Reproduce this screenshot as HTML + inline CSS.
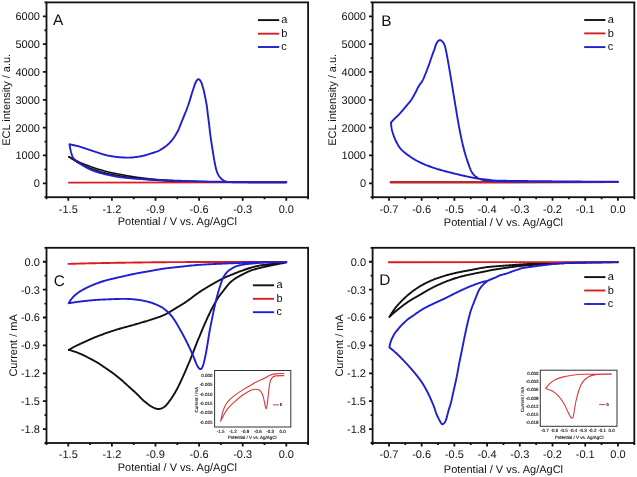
<!DOCTYPE html>
<html><head><meta charset="utf-8"><style>
html,body{margin:0;padding:0;background:#fff;}
body{width:637px;height:477px;overflow:hidden;}
svg{display:block;will-change:transform;text-rendering:geometricPrecision;}
.t{font-family:"Liberation Sans",sans-serif;font-size:11px;fill:#111;}
.L{font-family:"Liberation Sans",sans-serif;font-size:15.4px;fill:#111;}
.s{font-family:"Liberation Sans",sans-serif;font-size:4.5px;fill:#111;stroke:#111;stroke-width:0.12px;}
</style></head><body>
<svg width="637" height="477" viewBox="0 0 637 477">
<rect width="637" height="477" fill="#fff"/>
<rect x="46.5" y="2.4" width="261.6" height="194.8" fill="none" stroke="#111" stroke-width="1.8"/>
<path d="M68.3,197.2v3.6M111.9,197.2v3.6M155.5,197.2v3.6M199.1,197.2v3.6M242.7,197.2v3.6M286.3,197.2v3.6M46.5,197.2v2M90.1,197.2v2M133.7,197.2v2M177.3,197.2v2M220.9,197.2v2M264.5,197.2v2M308.1,197.2v2" stroke="#111" stroke-width="1.8" fill="none"/>
<text x="68.3" y="212.6" text-anchor="middle" class="t">-1.5</text>
<text x="111.9" y="212.6" text-anchor="middle" class="t">-1.2</text>
<text x="155.5" y="212.6" text-anchor="middle" class="t">-0.9</text>
<text x="199.1" y="212.6" text-anchor="middle" class="t">-0.6</text>
<text x="242.7" y="212.6" text-anchor="middle" class="t">-0.3</text>
<text x="286.3" y="212.6" text-anchor="middle" class="t">0.0</text>
<path d="M46.5,183.29h-3.6M46.5,155.46h-3.6M46.5,127.63h-3.6M46.5,99.8h-3.6M46.5,71.97h-3.6M46.5,44.14h-3.6M46.5,16.31h-3.6M46.5,197.2h-2M46.5,169.37h-2M46.5,141.54h-2M46.5,113.71h-2M46.5,85.89h-2M46.5,58.06h-2M46.5,30.23h-2M46.5,2.4h-2" stroke="#111" stroke-width="1.8" fill="none"/>
<text x="39.9" y="187.19" text-anchor="end" class="t">0</text>
<text x="39.9" y="159.36" text-anchor="end" class="t">1000</text>
<text x="39.9" y="131.53" text-anchor="end" class="t">2000</text>
<text x="39.9" y="103.7" text-anchor="end" class="t">3000</text>
<text x="39.9" y="75.87" text-anchor="end" class="t">4000</text>
<text x="39.9" y="48.04" text-anchor="end" class="t">5000</text>
<text x="39.9" y="20.21" text-anchor="end" class="t">6000</text>
<rect x="372.6" y="2.4" width="261.7" height="194.8" fill="none" stroke="#111" stroke-width="1.8"/>
<path d="M388.96,197.2v3.6M421.67,197.2v3.6M454.38,197.2v3.6M487.09,197.2v3.6M519.81,197.2v3.6M552.52,197.2v3.6M585.23,197.2v3.6M617.94,197.2v3.6M372.6,197.2v2M405.31,197.2v2M438.02,197.2v2M470.74,197.2v2M503.45,197.2v2M536.16,197.2v2M568.88,197.2v2M601.59,197.2v2M634.3,197.2v2" stroke="#111" stroke-width="1.8" fill="none"/>
<text x="388.96" y="212.6" text-anchor="middle" class="t">-0.7</text>
<text x="421.67" y="212.6" text-anchor="middle" class="t">-0.6</text>
<text x="454.38" y="212.6" text-anchor="middle" class="t">-0.5</text>
<text x="487.09" y="212.6" text-anchor="middle" class="t">-0.4</text>
<text x="519.81" y="212.6" text-anchor="middle" class="t">-0.3</text>
<text x="552.52" y="212.6" text-anchor="middle" class="t">-0.2</text>
<text x="585.23" y="212.6" text-anchor="middle" class="t">-0.1</text>
<text x="617.94" y="212.6" text-anchor="middle" class="t">0.0</text>
<path d="M372.6,183.29h-3.6M372.6,155.46h-3.6M372.6,127.63h-3.6M372.6,99.8h-3.6M372.6,71.97h-3.6M372.6,44.14h-3.6M372.6,16.31h-3.6M372.6,197.2h-2M372.6,169.37h-2M372.6,141.54h-2M372.6,113.71h-2M372.6,85.89h-2M372.6,58.06h-2M372.6,30.23h-2M372.6,2.4h-2" stroke="#111" stroke-width="1.8" fill="none"/>
<text x="366" y="187.19" text-anchor="end" class="t">0</text>
<text x="366" y="159.36" text-anchor="end" class="t">1000</text>
<text x="366" y="131.53" text-anchor="end" class="t">2000</text>
<text x="366" y="103.7" text-anchor="end" class="t">3000</text>
<text x="366" y="75.87" text-anchor="end" class="t">4000</text>
<text x="366" y="48.04" text-anchor="end" class="t">5000</text>
<text x="366" y="20.21" text-anchor="end" class="t">6000</text>
<rect x="46.5" y="247.8" width="261.6" height="195.2" fill="none" stroke="#111" stroke-width="1.8"/>
<path d="M68.3,443v3.6M111.9,443v3.6M155.5,443v3.6M199.1,443v3.6M242.7,443v3.6M286.3,443v3.6M46.5,443v2M90.1,443v2M133.7,443v2M177.3,443v2M220.9,443v2M264.5,443v2M308.1,443v2" stroke="#111" stroke-width="1.8" fill="none"/>
<text x="68.3" y="458.4" text-anchor="middle" class="t">-1.5</text>
<text x="111.9" y="458.4" text-anchor="middle" class="t">-1.2</text>
<text x="155.5" y="458.4" text-anchor="middle" class="t">-0.9</text>
<text x="199.1" y="458.4" text-anchor="middle" class="t">-0.6</text>
<text x="242.7" y="458.4" text-anchor="middle" class="t">-0.3</text>
<text x="286.3" y="458.4" text-anchor="middle" class="t">0.0</text>
<path d="M46.5,261.74h-3.6M46.5,289.63h-3.6M46.5,317.51h-3.6M46.5,345.4h-3.6M46.5,373.29h-3.6M46.5,401.17h-3.6M46.5,429.06h-3.6M46.5,247.8h-2M46.5,275.69h-2M46.5,303.57h-2M46.5,331.46h-2M46.5,359.34h-2M46.5,387.23h-2M46.5,415.11h-2M46.5,443h-2" stroke="#111" stroke-width="1.8" fill="none"/>
<text x="39.9" y="265.64" text-anchor="end" class="t">0.0</text>
<text x="39.9" y="293.53" text-anchor="end" class="t">-0.3</text>
<text x="39.9" y="321.41" text-anchor="end" class="t">-0.6</text>
<text x="39.9" y="349.3" text-anchor="end" class="t">-0.9</text>
<text x="39.9" y="377.19" text-anchor="end" class="t">-1.2</text>
<text x="39.9" y="405.07" text-anchor="end" class="t">-1.5</text>
<text x="39.9" y="432.96" text-anchor="end" class="t">-1.8</text>
<rect x="372.6" y="247.8" width="261.7" height="195.2" fill="none" stroke="#111" stroke-width="1.8"/>
<path d="M388.96,443v3.6M421.67,443v3.6M454.38,443v3.6M487.09,443v3.6M519.81,443v3.6M552.52,443v3.6M585.23,443v3.6M617.94,443v3.6M372.6,443v2M405.31,443v2M438.02,443v2M470.74,443v2M503.45,443v2M536.16,443v2M568.88,443v2M601.59,443v2M634.3,443v2" stroke="#111" stroke-width="1.8" fill="none"/>
<text x="388.96" y="458.4" text-anchor="middle" class="t">-0.7</text>
<text x="421.67" y="458.4" text-anchor="middle" class="t">-0.6</text>
<text x="454.38" y="458.4" text-anchor="middle" class="t">-0.5</text>
<text x="487.09" y="458.4" text-anchor="middle" class="t">-0.4</text>
<text x="519.81" y="458.4" text-anchor="middle" class="t">-0.3</text>
<text x="552.52" y="458.4" text-anchor="middle" class="t">-0.2</text>
<text x="585.23" y="458.4" text-anchor="middle" class="t">-0.1</text>
<text x="617.94" y="458.4" text-anchor="middle" class="t">0.0</text>
<path d="M372.6,261.74h-3.6M372.6,289.63h-3.6M372.6,317.51h-3.6M372.6,345.4h-3.6M372.6,373.29h-3.6M372.6,401.17h-3.6M372.6,429.06h-3.6M372.6,247.8h-2M372.6,275.69h-2M372.6,303.57h-2M372.6,331.46h-2M372.6,359.34h-2M372.6,387.23h-2M372.6,415.11h-2M372.6,443h-2" stroke="#111" stroke-width="1.8" fill="none"/>
<text x="366" y="265.64" text-anchor="end" class="t">0.0</text>
<text x="366" y="293.53" text-anchor="end" class="t">-0.3</text>
<text x="366" y="321.41" text-anchor="end" class="t">-0.6</text>
<text x="366" y="349.3" text-anchor="end" class="t">-0.9</text>
<text x="366" y="377.19" text-anchor="end" class="t">-1.2</text>
<text x="366" y="405.07" text-anchor="end" class="t">-1.5</text>
<text x="366" y="432.96" text-anchor="end" class="t">-1.8</text>
<text x="177.3" y="225" text-anchor="middle" class="t">Potential / V vs. Ag/AgCl</text>
<text x="503.45" y="225.9" text-anchor="middle" class="t">Potential / V vs. Ag/AgCl</text>
<text x="177.3" y="470.9" text-anchor="middle" class="t">Potential / V vs. Ag/AgCl</text>
<text x="503.45" y="472.7" text-anchor="middle" class="t">Potential / V vs. Ag/AgCl</text>
<text transform="translate(9.7,99.8) rotate(-90)" x="0" y="0" text-anchor="middle" class="t">ECL intensity / a.u.</text>
<text transform="translate(335.8,99.8) rotate(-90)" x="0" y="0" text-anchor="middle" class="t">ECL intensity / a.u.</text>
<text transform="translate(17,345.4) rotate(-90)" x="0" y="0" text-anchor="middle" class="t">Current / mA</text>
<text transform="translate(343.1,345.4) rotate(-90)" x="0" y="0" text-anchor="middle" class="t">Current / mA</text>
<text x="53.07" y="24.8" class="L">A</text>
<text x="381.15" y="25.8" class="L">B</text>
<text x="53.8" y="285.5" class="L">C</text>
<text x="379.15" y="284.6" class="L">D</text>
<path d="M68.9,156.8L69.62,157.15L70.34,157.5L71.06,157.85L71.78,158.2L72.5,158.55L73.21,158.91L73.93,159.26L74.64,159.62L75.35,159.99L76.05,160.38L76.75,160.77L77.45,161.17L78.14,161.56L78.85,161.93L79.57,162.29L80.29,162.62L81.02,162.94L81.76,163.26L82.5,163.56L83.24,163.86L83.99,164.15L84.73,164.44L85.48,164.73L86.23,165.01L86.98,165.29L87.73,165.57L88.48,165.85L89.23,166.12L89.99,166.38L90.74,166.65L91.5,166.91L92.26,167.16L93.01,167.42L93.77,167.67L94.53,167.92L95.29,168.17L96.06,168.41L96.82,168.66L97.58,168.9L98.34,169.15L99.1,169.39L99.87,169.62L100.63,169.86L101.4,170.09L102.17,170.32L102.93,170.54L103.7,170.75L104.48,170.97L105.25,171.18L106.02,171.38L106.79,171.59L107.57,171.78L108.35,171.98L109.12,172.17L109.9,172.35L110.68,172.53L111.46,172.71L112.24,172.88L113.03,173.04L113.81,173.2L114.6,173.35L115.38,173.5L116.17,173.64L116.96,173.79L117.74,173.93L118.53,174.08L119.32,174.22L120.1,174.37L120.89,174.53L121.67,174.68L122.46,174.83L123.24,174.99L124.03,175.14L124.81,175.29L125.6,175.44L126.39,175.58L127.17,175.72L127.96,175.86L128.75,175.99L129.54,176.12L130.33,176.25L131.12,176.38L131.91,176.5L132.7,176.62L133.49,176.74L134.28,176.85L135.08,176.97L135.87,177.09L136.66,177.2L137.45,177.31L138.24,177.42L139.04,177.53L139.83,177.64L140.62,177.74L141.41,177.85L142.21,177.95L143,178.05L143.8,178.15L144.59,178.25L145.38,178.35L146.18,178.44L146.97,178.53L147.77,178.62L148.56,178.72L149.36,178.8L150.15,178.89L150.95,178.98L151.74,179.06L152.54,179.14L153.34,179.22L154.13,179.3L154.93,179.37L155.73,179.44L156.52,179.51L157.32,179.58L158.12,179.65L158.91,179.71L159.71,179.78L160.51,179.84L161.31,179.9L162.1,179.96L162.9,180.03L163.7,180.09L164.5,180.15L165.29,180.21L166.09,180.27L166.89,180.33L167.69,180.38L168.49,180.43L169.29,180.48L170.08,180.53L170.88,180.58L171.68,180.63L172.48,180.67L173.28,180.71L174.08,180.75L174.88,180.79L175.68,180.82L176.48,180.86L177.27,180.89L178.07,180.93L178.87,180.96L179.67,180.99L180.47,181.02L181.27,181.05L182.07,181.08L182.87,181.1L183.67,181.13L184.47,181.16L185.27,181.19L186.07,181.22L186.87,181.24L187.67,181.27L188.47,181.3L189.27,181.32L190.07,181.35L190.87,181.37L191.67,181.4L192.47,181.42L193.26,181.45L194.06,181.47L194.86,181.49L195.66,181.52L196.46,181.54L197.26,181.56L198.06,181.58L198.86,181.6L199.66,181.62L200.46,181.64L201.26,181.66L202.06,181.68L202.86,181.7L203.66,181.72L204.46,181.74L205.26,181.75L206.06,181.77L206.86,181.79L207.66,181.8L208.46,181.82L209.26,181.83L210.06,181.85L210.86,181.86L211.66,181.88L212.46,181.89L213.26,181.9L214.06,181.92L214.86,181.93L215.66,181.94L216.46,181.95L217.26,181.96L218.06,181.97L218.86,181.99L219.66,182L220.46,182.01L221.26,182.01L222.06,182.02L222.86,182.03L223.66,182.04L224.46,182.05L225.26,182.05L226.06,182.06L226.86,182.07L227.66,182.07L228.46,182.08L229.26,182.09L230.06,182.09L230.86,182.1L231.66,182.1L232.46,182.11L233.26,182.11L234.06,182.12L234.86,182.12L235.66,182.13L236.46,182.13L237.26,182.14L238.06,182.14L238.86,182.14L239.66,182.15L240.46,182.15L241.26,182.16L242.06,182.16L242.86,182.16L243.66,182.17L244.46,182.17L245.26,182.17L246.06,182.18L246.86,182.18L247.66,182.18L248.46,182.19L249.26,182.19L250.06,182.19L250.86,182.2L251.66,182.2L252.46,182.2L253.26,182.2L254.06,182.21L254.86,182.21L255.66,182.21L256.46,182.22L257.26,182.22L258.06,182.22L258.86,182.22L259.66,182.22L260.46,182.23L261.26,182.23L262.06,182.23L262.86,182.23L263.66,182.24L264.46,182.24L265.26,182.24L266.06,182.24L266.86,182.24L267.66,182.25L268.46,182.25L269.26,182.25L270.06,182.25L270.86,182.26L271.66,182.26L272.46,182.26L273.26,182.26L274.06,182.26L274.86,182.27L275.66,182.27L276.46,182.27L277.26,182.27L278.06,182.27L278.86,182.28L279.66,182.28L280.46,182.28L281.26,182.28L282.06,182.28L282.86,182.29L283.66,182.29L284.46,182.29L285.24,182.3L285.96,182.3L286.3,182.3" stroke="#111" stroke-width="1.6" fill="none" stroke-linejoin="round" stroke-linecap="round"/>
<path d="M68.9,156.8L69.57,157.24L70.23,157.68L70.9,158.12L71.57,158.57L72.24,159.01L72.91,159.45L73.58,159.88L74.25,160.32L74.92,160.75L75.59,161.18L76.27,161.61L76.94,162.04L77.63,162.46L78.31,162.87L79.01,163.26L79.71,163.64L80.42,164.01L81.14,164.37L81.85,164.72L82.57,165.07L83.3,165.41L84.02,165.75L84.75,166.08L85.48,166.41L86.21,166.73L86.95,167.04L87.69,167.35L88.43,167.65L89.18,167.94L89.93,168.22L90.68,168.49L91.43,168.76L92.19,169.02L92.94,169.28L93.7,169.54L94.46,169.79L95.22,170.04L95.98,170.29L96.74,170.54L97.5,170.79L98.26,171.04L99.02,171.28L99.79,171.52L100.55,171.75L101.32,171.98L102.09,172.2L102.86,172.42L103.63,172.63L104.4,172.83L105.18,173.03L105.96,173.22L106.74,173.4L107.52,173.57L108.3,173.75L109.08,173.92L109.86,174.08L110.65,174.24L111.43,174.4L112.21,174.56L113,174.71L113.78,174.86L114.57,175.01L115.36,175.15L116.15,175.28L116.94,175.42L117.72,175.55L118.51,175.69L119.3,175.82L120.09,175.95L120.88,176.08L121.67,176.21L122.46,176.35L123.25,176.48L124.04,176.61L124.83,176.73L125.62,176.86L126.41,176.98L127.2,177.1L127.99,177.22L128.78,177.33L129.57,177.44L130.37,177.55L131.16,177.66L131.95,177.76L132.75,177.86L133.54,177.97L134.33,178.07L135.13,178.17L135.92,178.27L136.71,178.37L137.51,178.46L138.3,178.56L139.1,178.65L139.89,178.75L140.69,178.84L141.48,178.93L142.28,179.01L143.07,179.1L143.87,179.18L144.66,179.27L145.46,179.34L146.26,179.42L147.05,179.5L147.85,179.57L148.65,179.65L149.44,179.72L150.24,179.79L151.04,179.86L151.83,179.92L152.63,179.98L153.43,180.05L154.23,180.11L155.02,180.16L155.82,180.22L156.62,180.28L157.42,180.33L158.22,180.38L159.02,180.44L159.81,180.49L160.61,180.54L161.41,180.59L162.21,180.64L163.01,180.69L163.81,180.75L164.6,180.8L165.4,180.85L166.2,180.9L167,180.95L167.8,180.99L168.6,181.04L169.4,181.08L170.19,181.12L170.99,181.16L171.79,181.2L172.59,181.24L173.39,181.27L174.19,181.3L174.99,181.33L175.79,181.36L176.59,181.39L177.39,181.42L178.19,181.45L178.99,181.47L179.79,181.49L180.59,181.52L181.39,181.54L182.19,181.56L182.99,181.58L183.79,181.6L184.59,181.62L185.38,181.64L186.18,181.66L186.98,181.68L187.78,181.7L188.58,181.72L189.38,181.74L190.18,181.76L190.98,181.78L191.78,181.79L192.58,181.81L193.38,181.83L194.18,181.84L194.98,181.86L195.78,181.87L196.58,181.89L197.38,181.9L198.18,181.92L198.98,181.93L199.78,181.95L200.58,181.96L201.38,181.97L202.18,181.99L202.98,182L203.78,182.01L204.58,182.02L205.38,182.04L206.18,182.05L206.98,182.06L207.78,182.07L208.58,182.08L209.38,182.09L210.18,182.1L210.98,182.11L211.78,182.12L212.58,182.13L213.38,182.14L214.18,182.14L214.98,182.15L215.78,182.16L216.58,182.17L217.38,182.18L218.18,182.18L218.98,182.19L219.78,182.2L220.58,182.2L221.38,182.21L222.18,182.22L222.98,182.22L223.78,182.23L224.58,182.23L225.38,182.24L226.18,182.24L226.98,182.25L227.78,182.25L228.58,182.26L229.38,182.26L230.18,182.26L230.98,182.27L231.78,182.27L232.58,182.27L233.38,182.28L234.18,182.28L234.98,182.28L235.78,182.29L236.58,182.29L237.38,182.29L238.18,182.3L238.98,182.3L239.78,182.3L240.58,182.3L241.38,182.31L242.18,182.31L242.98,182.31L243.78,182.31L244.58,182.32L245.38,182.32L246.18,182.32L246.98,182.32L247.78,182.33L248.58,182.33L249.38,182.33L250.18,182.33L250.98,182.33L251.78,182.34L252.58,182.34L253.38,182.34L254.18,182.34L254.98,182.34L255.78,182.34L256.58,182.35L257.38,182.35L258.18,182.35L258.98,182.35L259.78,182.35L260.58,182.35L261.38,182.35L262.18,182.36L262.98,182.36L263.78,182.36L264.58,182.36L265.38,182.36L266.18,182.36L266.98,182.36L267.78,182.37L268.58,182.37L269.38,182.37L270.18,182.37L270.98,182.37L271.78,182.37L272.58,182.37L273.38,182.38L274.18,182.38L274.98,182.38L275.78,182.38L276.58,182.38L277.38,182.38L278.18,182.38L278.98,182.38L279.78,182.39L280.58,182.39L281.38,182.39L282.18,182.39L282.98,182.39L283.78,182.39L284.58,182.4L285.34,182.4L286.01,182.4L286.3,182.4" stroke="#111" stroke-width="1.6" fill="none" stroke-linejoin="round" stroke-linecap="round"/>
<path d="M68.9,182.6L286.3,182.3" stroke="#d81e22" stroke-width="1.9" fill="none" stroke-linejoin="round" stroke-linecap="round"/>
<path d="M69.5,144.3L70.28,144.47L71.07,144.63L71.85,144.8L72.63,144.96L73.41,145.12L74.2,145.29L74.98,145.46L75.76,145.63L76.54,145.81L77.32,145.99L78.1,146.18L78.87,146.38L79.64,146.59L80.41,146.81L81.18,147.05L81.94,147.29L82.7,147.54L83.45,147.8L84.21,148.07L84.96,148.34L85.72,148.61L86.47,148.88L87.22,149.15L87.98,149.41L88.73,149.67L89.49,149.93L90.25,150.19L91.01,150.44L91.76,150.7L92.52,150.95L93.28,151.21L94.04,151.46L94.8,151.71L95.56,151.96L96.32,152.21L97.08,152.45L97.84,152.69L98.61,152.93L99.37,153.17L100.13,153.41L100.9,153.65L101.66,153.89L102.43,154.12L103.19,154.35L103.96,154.58L104.73,154.79L105.5,155L106.28,155.2L107.06,155.39L107.84,155.56L108.62,155.72L109.4,155.88L110.19,156.02L110.98,156.16L111.77,156.29L112.56,156.41L113.35,156.53L114.14,156.64L114.94,156.75L115.73,156.85L116.52,156.94L117.32,157.03L118.11,157.11L118.91,157.19L119.71,157.26L120.5,157.32L121.3,157.38L122.1,157.44L122.9,157.48L123.7,157.53L124.5,157.56L125.3,157.59L126.1,157.61L126.9,157.62L127.7,157.63L128.5,157.63L129.3,157.61L130.1,157.59L130.89,157.55L131.69,157.5L132.49,157.43L133.29,157.35L134.08,157.26L134.87,157.16L135.67,157.06L136.46,156.94L137.25,156.83L138.04,156.71L138.83,156.59L139.62,156.46L140.41,156.33L141.2,156.19L141.98,156.04L142.77,155.87L143.54,155.68L144.32,155.49L145.1,155.29L145.87,155.08L146.63,154.86L147.4,154.62L148.16,154.39L148.93,154.15L149.69,153.91L150.46,153.68L151.22,153.45L151.99,153.21L152.75,152.97L153.51,152.73L154.27,152.47L155.03,152.22L155.78,151.95L156.54,151.69L157.28,151.4L158.02,151.09L158.75,150.76L159.46,150.39L160.16,150.01L160.85,149.6L161.53,149.18L162.2,148.75L162.87,148.3L163.53,147.85L164.18,147.39L164.83,146.92L165.47,146.45L166.11,145.96L166.73,145.46L167.35,144.95L167.94,144.42L168.53,143.87L169.11,143.32L169.67,142.75L170.23,142.18L170.78,141.59L171.31,141L171.83,140.39L172.33,139.77L172.82,139.13L173.29,138.49L173.75,137.83L174.2,137.17L174.64,136.5L175.07,135.83L175.49,135.15L175.91,134.47L176.32,133.78L176.72,133.09L177.11,132.39L177.49,131.68L177.86,130.97L178.21,130.26L178.54,129.53L178.86,128.8L179.16,128.06L179.46,127.31L179.75,126.57L180.04,125.82L180.33,125.08L180.63,124.33L180.93,123.59L181.24,122.85L181.54,122.11L181.84,121.37L182.15,120.63L182.45,119.89L182.75,119.15L183.05,118.41L183.35,117.67L183.66,116.93L183.96,116.19L184.26,115.45L184.57,114.71L184.87,113.97L185.17,113.23L185.48,112.49L185.78,111.75L186.07,111L186.37,110.26L186.65,109.51L186.94,108.76L187.22,108.01L187.49,107.26L187.75,106.51L188.02,105.75L188.27,104.99L188.53,104.23L188.78,103.47L189.02,102.71L189.27,101.95L189.51,101.19L189.74,100.43L189.98,99.66L190.21,98.9L190.45,98.13L190.68,97.36L190.91,96.6L191.15,95.84L191.39,95.07L191.62,94.31L191.86,93.54L192.09,92.78L192.33,92.01L192.57,91.25L192.81,90.49L193.06,89.73L193.31,88.97L193.56,88.21L193.81,87.45L194.06,86.69L194.31,85.93L194.57,85.17L194.84,84.42L195.14,83.68L195.46,82.94L195.8,82.22L196.16,81.51L196.55,80.81L196.98,80.14L197.49,79.57L198.1,79.21L198.77,79.21L199.39,79.57L199.93,80.13L200.39,80.78L200.79,81.47L201.16,82.18L201.49,82.9L201.78,83.65L202.05,84.4L202.29,85.16L202.52,85.93L202.75,86.7L202.96,87.47L203.17,88.24L203.38,89.01L203.58,89.79L203.76,90.57L203.94,91.34L204.12,92.13L204.28,92.91L204.45,93.69L204.61,94.47L204.77,95.26L204.93,96.04L205.09,96.83L205.25,97.61L205.41,98.39L205.57,99.18L205.73,99.96L205.88,100.75L206.03,101.53L206.18,102.32L206.32,103.11L206.46,103.89L206.6,104.68L206.72,105.47L206.84,106.26L206.95,107.06L207.05,107.85L207.15,108.64L207.25,109.44L207.34,110.23L207.43,111.03L207.52,111.82L207.61,112.62L207.7,113.41L207.8,114.21L207.9,115L208.01,115.79L208.11,116.59L208.22,117.38L208.32,118.17L208.43,118.96L208.53,119.76L208.63,120.55L208.74,121.34L208.84,122.14L208.94,122.93L209.04,123.72L209.14,124.52L209.23,125.31L209.32,126.11L209.41,126.9L209.49,127.7L209.57,128.5L209.66,129.29L209.74,130.09L209.83,130.88L209.92,131.68L210.02,132.47L210.11,133.26L210.22,134.06L210.32,134.85L210.43,135.64L210.54,136.44L210.65,137.23L210.77,138.02L210.89,138.81L211,139.6L211.12,140.39L211.24,141.18L211.36,141.98L211.48,142.77L211.6,143.56L211.72,144.35L211.85,145.14L211.97,145.93L212.09,146.72L212.22,147.51L212.34,148.3L212.47,149.09L212.59,149.88L212.72,150.67L212.84,151.46L212.97,152.25L213.09,153.04L213.22,153.83L213.34,154.62L213.47,155.41L213.6,156.2L213.73,156.99L213.86,157.78L213.99,158.57L214.13,159.36L214.26,160.14L214.41,160.93L214.55,161.72L214.7,162.5L214.86,163.29L215.01,164.07L215.17,164.86L215.33,165.64L215.5,166.42L215.67,167.21L215.85,167.98L216.05,168.76L216.26,169.53L216.48,170.3L216.73,171.06L217,171.81L217.28,172.56L217.59,173.3L217.93,174.02L218.29,174.73L218.68,175.43L219.11,176.11L219.57,176.76L220.06,177.39L220.59,177.99L221.15,178.56L221.74,179.1L222.36,179.6L223.01,180.06L223.69,180.49L224.39,180.86L225.12,181.19L225.87,181.45L226.64,181.65L227.43,181.79L228.22,181.89L229.02,181.97L229.81,182.04L230.61,182.1L231.41,182.15L232.21,182.17L233.01,182.18L233.81,182.19L234.61,182.19L235.41,182.19L236.21,182.19L237.01,182.19L237.81,182.19L238.61,182.2L239.41,182.2L240.21,182.2L241.01,182.2L241.81,182.2L242.61,182.21L243.41,182.21L244.21,182.21L245.01,182.21L245.81,182.21L246.61,182.21L247.41,182.21L248.21,182.21L249.01,182.21L249.81,182.21L250.61,182.21L251.41,182.21L252.21,182.21L253.01,182.21L253.81,182.21L254.61,182.21L255.41,182.21L256.21,182.21L257.01,182.21L257.81,182.21L258.61,182.21L259.41,182.21L260.21,182.21L261.01,182.21L261.81,182.21L262.61,182.21L263.41,182.21L264.21,182.21L265.01,182.21L265.81,182.21L266.61,182.21L267.41,182.21L268.21,182.21L269.01,182.21L269.81,182.21L270.61,182.21L271.41,182.21L272.21,182.21L273.01,182.21L273.81,182.21L274.61,182.21L275.41,182.21L276.21,182.21L277.01,182.2L277.81,182.2L278.61,182.2L279.41,182.2L280.21,182.2L281.01,182.2L281.81,182.2L282.61,182.2L283.41,182.2L284.21,182.2L284.99,182.2L285.71,182.2L286.3,182.2L285.5,182.2L284.7,182.19L283.9,182.19L283.1,182.18L282.3,182.18L281.5,182.18L280.7,182.17L279.9,182.17L279.1,182.16L278.3,182.16L277.5,182.16L276.7,182.15L275.9,182.15L275.1,182.15L274.3,182.14L273.5,182.14L272.7,182.14L271.9,182.13L271.1,182.13L270.3,182.13L269.5,182.12L268.7,182.12L267.9,182.12L267.1,182.11L266.3,182.11L265.5,182.11L264.7,182.1L263.9,182.1L263.1,182.1L262.3,182.09L261.5,182.09L260.7,182.09L259.9,182.08L259.1,182.08L258.3,182.08L257.5,182.07L256.7,182.07L255.9,182.06L255.1,182.06L254.3,182.06L253.5,182.05L252.7,182.05L251.9,182.04L251.1,182.04L250.3,182.04L249.5,182.03L248.7,182.03L247.9,182.02L247.1,182.02L246.3,182.01L245.5,182.01L244.7,182L243.9,182L243.1,182L242.3,181.99L241.5,181.99L240.7,181.98L239.9,181.98L239.1,181.97L238.3,181.97L237.5,181.96L236.7,181.95L235.9,181.95L235.1,181.94L234.3,181.94L233.5,181.93L232.7,181.93L231.9,181.92L231.1,181.91L230.3,181.91L229.5,181.9L228.7,181.89L227.9,181.89L227.1,181.88L226.3,181.87L225.5,181.86L224.7,181.85L223.9,181.85L223.1,181.84L222.3,181.83L221.5,181.82L220.7,181.81L219.9,181.8L219.1,181.79L218.3,181.78L217.5,181.76L216.7,181.75L215.9,181.74L215.1,181.73L214.3,181.71L213.5,181.7L212.7,181.69L211.9,181.67L211.1,181.66L210.3,181.64L209.5,181.63L208.7,181.61L207.9,181.59L207.1,181.57L206.3,181.56L205.5,181.54L204.7,181.52L203.9,181.5L203.1,181.48L202.3,181.46L201.5,181.44L200.71,181.42L199.91,181.4L199.11,181.38L198.31,181.36L197.51,181.34L196.71,181.31L195.91,181.29L195.11,181.27L194.31,181.24L193.51,181.22L192.71,181.2L191.91,181.17L191.11,181.15L190.31,181.12L189.51,181.1L188.71,181.07L187.91,181.05L187.11,181.02L186.31,181L185.51,180.97L184.71,180.95L183.91,180.92L183.11,180.9L182.31,180.87L181.51,180.85L180.71,180.82L179.91,180.8L179.11,180.77L178.32,180.75L177.52,180.72L176.72,180.7L175.92,180.67L175.12,180.64L174.32,180.61L173.52,180.58L172.72,180.55L171.92,180.52L171.12,180.49L170.32,180.46L169.52,180.43L168.72,180.39L167.92,180.36L167.12,180.32L166.32,180.29L165.53,180.25L164.73,180.21L163.93,180.18L163.13,180.14L162.33,180.1L161.53,180.07L160.73,180.03L159.93,180L159.13,179.96L158.33,179.93L157.53,179.9L156.73,179.86L155.93,179.83L155.14,179.8L154.34,179.76L153.54,179.73L152.74,179.69L151.94,179.66L151.14,179.62L150.34,179.58L149.54,179.55L148.74,179.51L147.94,179.46L147.14,179.42L146.35,179.38L145.55,179.33L144.75,179.28L143.95,179.24L143.15,179.19L142.35,179.13L141.55,179.08L140.76,179.03L139.96,178.97L139.16,178.92L138.36,178.86L137.56,178.8L136.77,178.75L135.97,178.69L135.17,178.63L134.37,178.56L133.58,178.5L132.78,178.44L131.98,178.37L131.18,178.3L130.39,178.23L129.59,178.16L128.79,178.09L128,178.01L127.2,177.94L126.4,177.86L125.61,177.78L124.81,177.69L124.02,177.6L123.22,177.51L122.43,177.42L121.63,177.32L120.84,177.22L120.05,177.11L119.26,177.01L118.46,176.89L117.67,176.77L116.88,176.64L116.09,176.51L115.31,176.37L114.52,176.22L113.74,176.07L112.95,175.91L112.17,175.76L111.38,175.6L110.6,175.43L109.82,175.27L109.03,175.1L108.25,174.93L107.47,174.76L106.69,174.58L105.91,174.4L105.13,174.21L104.36,174.02L103.58,173.82L102.81,173.62L102.04,173.41L101.26,173.2L100.49,172.99L99.72,172.77L98.96,172.54L98.19,172.31L97.43,172.07L96.67,171.82L95.91,171.57L95.15,171.31L94.4,171.04L93.65,170.77L92.9,170.49L92.15,170.2L91.41,169.91L90.67,169.6L89.93,169.29L89.2,168.96L88.48,168.62L87.76,168.27L87.05,167.9L86.35,167.52L85.65,167.12L84.96,166.71L84.28,166.3L83.6,165.88L82.92,165.46L82.24,165.03L81.57,164.6L80.89,164.17L80.22,163.74L79.54,163.31L78.87,162.88L78.2,162.44L77.54,161.99L76.9,161.51L76.27,161.02L75.64,160.53L75.02,160.02L74.44,159.47L73.92,158.88L73.46,158.23L73.06,157.54L72.71,156.82L72.39,156.09L72.09,155.34L71.82,154.59L71.56,153.83L71.32,153.07L71.1,152.3L70.89,151.53L70.7,150.76L70.53,149.97L70.37,149.19L70.22,148.4L70.08,147.62L69.94,146.83L69.8,146.04L69.67,145.28L69.55,144.61L69.5,144.3" stroke="#1f1fd0" stroke-width="1.9" fill="none" stroke-linejoin="round" stroke-linecap="round"/>
<path d="M390.7,182.3L617.9,182.1" stroke="#111" stroke-width="1.9" fill="none" stroke-linejoin="round" stroke-linecap="round"/>
<path d="M390.7,182.3L617.9,182.1" stroke="#d81e22" stroke-width="1.9" fill="none" stroke-linejoin="round" stroke-linecap="round"/>
<path d="M391,122.5L391.54,121.91L392.09,121.33L392.64,120.74L393.18,120.16L393.74,119.58L394.3,119.01L394.86,118.45L395.44,117.89L396.02,117.34L396.6,116.79L397.18,116.24L397.75,115.68L398.32,115.12L398.88,114.55L399.44,113.97L399.98,113.38L400.51,112.79L401.04,112.19L401.57,111.58L402.09,110.98L402.6,110.37L403.12,109.75L403.63,109.14L404.14,108.53L404.66,107.91L405.17,107.3L405.68,106.68L406.2,106.07L406.72,105.46L407.24,104.86L407.77,104.25L408.29,103.65L408.81,103.04L409.33,102.43L409.83,101.81L410.32,101.18L410.8,100.54L411.26,99.89L411.71,99.22L412.14,98.55L412.55,97.86L412.95,97.17L413.35,96.48L413.74,95.78L414.12,95.07L414.5,94.37L414.88,93.67L415.26,92.96L415.63,92.25L416,91.54L416.35,90.83L416.7,90.11L417.05,89.39L417.4,88.67L417.76,87.95L418.14,87.25L418.53,86.55L418.94,85.87L419.38,85.2L419.83,84.54L420.29,83.88L420.76,83.23L421.22,82.58L421.67,81.92L422.11,81.25L422.52,80.56L422.91,79.87L423.27,79.15L423.61,78.43L423.94,77.7L424.25,76.96L424.55,76.22L424.85,75.48L425.14,74.73L425.43,73.99L425.72,73.24L426.02,72.5L426.31,71.76L426.61,71.01L426.9,70.27L427.19,69.52L427.47,68.77L427.76,68.03L428.04,67.28L428.32,66.53L428.6,65.78L428.87,65.03L429.14,64.27L429.41,63.52L429.67,62.76L429.93,62.01L430.18,61.25L430.43,60.49L430.68,59.73L430.93,58.97L431.19,58.21L431.45,57.45L431.71,56.7L431.98,55.95L432.26,55.19L432.54,54.44L432.82,53.7L433.1,52.95L433.38,52.2L433.66,51.45L433.94,50.7L434.21,49.94L434.47,49.19L434.71,48.43L434.94,47.66L435.17,46.89L435.4,46.13L435.65,45.37L435.93,44.62L436.24,43.89L436.61,43.18L437.03,42.5L437.48,41.84L437.99,41.23L438.57,40.69L439.21,40.28L439.93,40.1L440.65,40.22L441.32,40.6L441.91,41.11L442.46,41.69L442.98,42.3L443.47,42.93L443.89,43.6L444.25,44.31L444.55,45.05L444.82,45.8L445.05,46.57L445.26,47.34L445.46,48.12L445.64,48.89L445.81,49.68L445.98,50.46L446.14,51.24L446.3,52.03L446.45,52.81L446.6,53.6L446.75,54.38L446.9,55.17L447.04,55.96L447.19,56.74L447.33,57.53L447.47,58.32L447.61,59.1L447.75,59.89L447.89,60.68L448.03,61.47L448.18,62.25L448.32,63.04L448.46,63.83L448.6,64.62L448.74,65.4L448.88,66.19L449.02,66.98L449.15,67.77L449.29,68.56L449.43,69.35L449.56,70.13L449.69,70.92L449.83,71.71L449.96,72.5L450.09,73.29L450.22,74.08L450.35,74.87L450.48,75.66L450.62,76.45L450.75,77.24L450.88,78.02L451.01,78.81L451.14,79.6L451.27,80.39L451.4,81.18L451.53,81.97L451.66,82.76L451.79,83.55L451.92,84.34L452.05,85.13L452.18,85.92L452.31,86.71L452.44,87.5L452.57,88.29L452.7,89.08L452.83,89.86L452.96,90.65L453.09,91.44L453.22,92.23L453.35,93.02L453.48,93.81L453.61,94.6L453.73,95.39L453.86,96.18L453.99,96.97L454.12,97.76L454.25,98.55L454.38,99.34L454.51,100.13L454.64,100.92L454.77,101.71L454.9,102.5L455.03,103.29L455.16,104.07L455.29,104.86L455.42,105.65L455.55,106.44L455.69,107.23L455.82,108.02L455.95,108.81L456.08,109.6L456.21,110.39L456.34,111.18L456.47,111.97L456.6,112.76L456.73,113.55L456.86,114.33L456.99,115.12L457.13,115.91L457.26,116.7L457.39,117.49L457.53,118.28L457.66,119.07L457.8,119.86L457.94,120.64L458.08,121.43L458.22,122.22L458.36,123.01L458.5,123.79L458.64,124.58L458.79,125.37L458.93,126.15L459.08,126.94L459.22,127.73L459.37,128.51L459.52,129.3L459.67,130.09L459.82,130.87L459.97,131.66L460.13,132.44L460.28,133.23L460.44,134.01L460.6,134.8L460.76,135.58L460.92,136.36L461.08,137.15L461.24,137.93L461.41,138.71L461.58,139.49L461.75,140.28L461.93,141.06L462.1,141.84L462.28,142.62L462.46,143.4L462.64,144.17L462.83,144.95L463.02,145.73L463.21,146.51L463.4,147.28L463.6,148.06L463.8,148.83L464,149.61L464.21,150.38L464.41,151.15L464.62,151.93L464.83,152.7L465.05,153.47L465.27,154.24L465.49,155L465.72,155.77L465.96,156.54L466.19,157.3L466.44,158.06L466.69,158.82L466.94,159.58L467.2,160.34L467.46,161.09L467.72,161.85L467.99,162.6L468.27,163.35L468.54,164.11L468.81,164.86L469.08,165.61L469.34,166.37L469.61,167.12L469.88,167.87L470.17,168.62L470.46,169.37L470.78,170.1L471.11,170.83L471.48,171.54L471.88,172.23L472.31,172.9L472.78,173.55L473.28,174.17L473.81,174.77L474.36,175.34L474.95,175.89L475.56,176.4L476.19,176.89L476.85,177.35L477.51,177.79L478.19,178.21L478.89,178.6L479.61,178.93L480.36,179.22L481.12,179.46L481.9,179.65L482.68,179.82L483.46,179.97L484.25,180.12L485.04,180.26L485.82,180.4L486.61,180.53L487.4,180.65L488.2,180.75L488.99,180.83L489.79,180.9L490.59,180.96L491.39,181L492.19,181.05L492.99,181.08L493.78,181.12L494.58,181.15L495.38,181.17L496.18,181.2L496.98,181.22L497.78,181.25L498.58,181.27L499.38,181.29L500.18,181.3L500.98,181.32L501.78,181.34L502.58,181.35L503.38,181.36L504.18,181.38L504.98,181.39L505.78,181.4L506.58,181.41L507.38,181.42L508.18,181.43L508.98,181.44L509.78,181.45L510.58,181.46L511.38,181.46L512.18,181.47L512.98,181.48L513.78,181.49L514.58,181.49L515.38,181.5L516.18,181.51L516.98,181.51L517.78,181.52L518.58,181.52L519.38,181.53L520.18,181.53L520.98,181.54L521.78,181.54L522.58,181.55L523.38,181.55L524.18,181.56L524.98,181.56L525.78,181.57L526.58,181.57L527.38,181.57L528.18,181.58L528.98,181.58L529.78,181.59L530.58,181.59L531.38,181.59L532.18,181.6L532.98,181.6L533.78,181.6L534.58,181.61L535.38,181.61L536.18,181.61L536.98,181.62L537.78,181.62L538.58,181.62L539.38,181.63L540.18,181.63L540.98,181.63L541.78,181.63L542.58,181.64L543.38,181.64L544.18,181.64L544.98,181.65L545.78,181.65L546.58,181.65L547.38,181.65L548.18,181.66L548.98,181.66L549.78,181.66L550.58,181.66L551.38,181.67L552.18,181.67L552.98,181.67L553.78,181.68L554.58,181.68L555.38,181.68L556.18,181.68L556.98,181.69L557.78,181.69L558.58,181.69L559.38,181.7L560.18,181.7L560.98,181.7L561.78,181.71L562.58,181.71L563.38,181.71L564.18,181.72L564.98,181.72L565.78,181.72L566.58,181.72L567.38,181.73L568.18,181.73L568.98,181.73L569.78,181.73L570.58,181.74L571.38,181.74L572.18,181.74L572.98,181.74L573.78,181.74L574.58,181.75L575.38,181.75L576.18,181.75L576.98,181.75L577.78,181.75L578.58,181.75L579.38,181.76L580.18,181.76L580.98,181.76L581.78,181.76L582.58,181.76L583.38,181.76L584.18,181.76L584.98,181.76L585.78,181.77L586.58,181.77L587.38,181.77L588.18,181.77L588.98,181.77L589.78,181.77L590.58,181.77L591.38,181.77L592.18,181.77L592.98,181.78L593.78,181.78L594.58,181.78L595.38,181.78L596.18,181.78L596.98,181.78L597.78,181.78L598.58,181.78L599.38,181.78L600.18,181.78L600.98,181.78L601.78,181.78L602.58,181.78L603.38,181.79L604.18,181.79L604.98,181.79L605.78,181.79L606.58,181.79L607.38,181.79L608.18,181.79L608.98,181.79L609.78,181.79L610.58,181.79L611.38,181.79L612.18,181.79L612.98,181.79L613.78,181.79L614.58,181.8L615.38,181.8L616.18,181.8L616.94,181.8L617.61,181.8L617.9,181.8L617.1,181.79L616.3,181.79L615.5,181.78L614.7,181.78L613.9,181.77L613.1,181.77L612.3,181.76L611.5,181.76L610.7,181.75L609.9,181.75L609.1,181.74L608.3,181.74L607.5,181.73L606.7,181.73L605.9,181.73L605.1,181.72L604.3,181.72L603.5,181.71L602.7,181.71L601.9,181.7L601.1,181.7L600.3,181.69L599.5,181.69L598.7,181.68L597.9,181.68L597.1,181.67L596.3,181.67L595.5,181.66L594.7,181.66L593.9,181.65L593.1,181.65L592.3,181.64L591.5,181.64L590.7,181.63L589.9,181.63L589.1,181.62L588.3,181.62L587.5,181.61L586.7,181.6L585.9,181.6L585.1,181.59L584.3,181.59L583.5,181.58L582.7,181.58L581.9,181.57L581.1,181.57L580.3,181.56L579.5,181.56L578.7,181.55L577.9,181.54L577.1,181.54L576.3,181.53L575.5,181.53L574.7,181.52L573.9,181.52L573.1,181.51L572.3,181.5L571.5,181.5L570.7,181.49L569.9,181.48L569.1,181.48L568.3,181.47L567.5,181.47L566.7,181.46L565.9,181.45L565.1,181.45L564.3,181.44L563.5,181.43L562.7,181.42L561.9,181.42L561.1,181.41L560.3,181.4L559.5,181.4L558.7,181.39L557.9,181.38L557.1,181.37L556.3,181.37L555.5,181.36L554.7,181.35L553.9,181.34L553.1,181.33L552.3,181.33L551.5,181.32L550.7,181.31L549.9,181.3L549.1,181.3L548.3,181.29L547.5,181.28L546.7,181.27L545.9,181.27L545.1,181.26L544.3,181.25L543.5,181.24L542.7,181.23L541.9,181.23L541.1,181.22L540.3,181.21L539.5,181.2L538.7,181.19L537.9,181.18L537.1,181.18L536.3,181.17L535.5,181.16L534.7,181.15L533.9,181.14L533.1,181.13L532.3,181.13L531.5,181.12L530.7,181.11L529.9,181.1L529.1,181.09L528.3,181.08L527.5,181.07L526.7,181.07L525.9,181.06L525.1,181.05L524.3,181.04L523.5,181.03L522.7,181.02L521.9,181.01L521.1,181L520.3,180.99L519.5,180.98L518.7,180.97L517.9,180.96L517.1,180.95L516.3,180.94L515.5,180.93L514.7,180.92L513.9,180.91L513.1,180.9L512.3,180.89L511.5,180.88L510.7,180.87L509.9,180.86L509.1,180.85L508.3,180.84L507.5,180.83L506.7,180.81L505.9,180.8L505.1,180.79L504.3,180.78L503.51,180.76L502.71,180.75L501.91,180.74L501.11,180.72L500.31,180.71L499.51,180.69L498.71,180.67L497.91,180.65L497.11,180.64L496.31,180.61L495.51,180.59L494.71,180.56L493.91,180.53L493.11,180.47L492.33,180.36L491.55,180.21L490.76,180.07L489.97,179.97L489.17,179.89L488.38,179.81L487.58,179.73L486.79,179.64L485.99,179.56L485.2,179.48L484.4,179.39L483.61,179.3L482.81,179.21L482.02,179.11L481.22,179.01L480.43,178.91L479.64,178.8L478.84,178.69L478.05,178.58L477.26,178.45L476.47,178.33L475.68,178.2L474.9,178.06L474.11,177.92L473.32,177.77L472.54,177.62L471.75,177.46L470.97,177.31L470.18,177.15L469.4,176.98L468.62,176.82L467.83,176.65L467.05,176.48L466.27,176.31L465.49,176.14L464.71,175.97L463.93,175.79L463.15,175.62L462.37,175.45L461.59,175.27L460.81,175.09L460.03,174.91L459.25,174.73L458.47,174.55L457.69,174.36L456.91,174.18L456.13,173.99L455.36,173.8L454.58,173.61L453.8,173.42L453.03,173.23L452.25,173.04L451.47,172.84L450.7,172.65L449.92,172.45L449.14,172.26L448.37,172.06L447.59,171.87L446.82,171.67L446.04,171.47L445.27,171.27L444.5,171.06L443.72,170.86L442.95,170.65L442.18,170.43L441.41,170.21L440.64,169.99L439.88,169.76L439.11,169.53L438.35,169.29L437.58,169.05L436.82,168.81L436.06,168.56L435.3,168.31L434.54,168.06L433.78,167.8L433.03,167.54L432.27,167.29L431.51,167.03L430.76,166.76L430,166.5L429.25,166.24L428.49,165.98L427.73,165.72L426.98,165.45L426.23,165.17L425.49,164.87L424.75,164.56L424.02,164.24L423.29,163.91L422.56,163.57L421.84,163.23L421.12,162.89L420.4,162.55L419.68,162.2L418.96,161.84L418.24,161.48L417.53,161.12L416.82,160.75L416.12,160.37L415.41,159.99L414.72,159.59L414.03,159.19L413.34,158.77L412.67,158.35L411.99,157.92L411.33,157.47L410.67,157.02L410.01,156.57L409.36,156.1L408.71,155.63L408.07,155.16L407.43,154.68L406.79,154.19L406.16,153.7L405.53,153.2L404.91,152.7L404.29,152.19L403.68,151.68L403.08,151.15L402.49,150.62L401.91,150.06L401.35,149.49L400.81,148.9L400.29,148.29L399.79,147.67L399.32,147.02L398.86,146.37L398.43,145.69L398.02,145.01L397.62,144.31L397.24,143.61L396.87,142.9L396.5,142.19L396.14,141.48L395.79,140.76L395.46,140.03L395.13,139.3L394.82,138.56L394.52,137.82L394.23,137.08L393.95,136.33L393.67,135.58L393.41,134.82L393.15,134.06L392.9,133.3L392.66,132.54L392.44,131.77L392.22,131L392.03,130.23L391.85,129.45L391.69,128.66L391.55,127.88L391.44,127.08L391.35,126.29L391.26,125.5L391.19,124.7L391.12,123.91L391.06,123.17L391,122.5" stroke="#1f1fd0" stroke-width="1.9" fill="none" stroke-linejoin="round" stroke-linecap="round"/>
<path d="M68.4,263.9L69.2,263.88L70,263.86L70.8,263.83L71.6,263.81L72.4,263.79L73.2,263.76L74,263.74L74.8,263.71L75.6,263.69L76.4,263.67L77.2,263.64L78,263.62L78.8,263.6L79.6,263.57L80.39,263.55L81.19,263.53L81.99,263.51L82.79,263.48L83.59,263.46L84.39,263.44L85.19,263.42L85.99,263.4L86.79,263.38L87.59,263.36L88.39,263.34L89.19,263.32L89.99,263.3L90.79,263.29L91.59,263.27L92.39,263.25L93.19,263.23L93.99,263.22L94.79,263.2L95.59,263.18L96.39,263.17L97.19,263.15L97.99,263.14L98.79,263.12L99.59,263.11L100.39,263.09L101.19,263.08L101.99,263.06L102.79,263.05L103.59,263.04L104.39,263.02L105.19,263.01L105.99,263L106.79,262.98L107.59,262.97L108.39,262.95L109.19,262.94L109.99,262.93L110.79,262.91L111.59,262.9L112.39,262.89L113.19,262.87L113.99,262.86L114.79,262.85L115.59,262.83L116.39,262.82L117.19,262.81L117.99,262.8L118.79,262.78L119.59,262.77L120.39,262.76L121.19,262.74L121.99,262.73L122.79,262.72L123.59,262.71L124.39,262.69L125.19,262.68L125.99,262.67L126.79,262.66L127.59,262.65L128.39,262.63L129.19,262.62L129.99,262.61L130.79,262.6L131.59,262.59L132.39,262.58L133.19,262.56L133.99,262.55L134.79,262.54L135.59,262.53L136.38,262.52L137.18,262.51L137.98,262.5L138.78,262.49L139.58,262.48L140.38,262.46L141.18,262.45L141.98,262.44L142.78,262.43L143.58,262.42L144.38,262.41L145.18,262.4L145.98,262.39L146.78,262.38L147.58,262.37L148.38,262.36L149.18,262.35L149.98,262.34L150.78,262.33L151.58,262.32L152.38,262.32L153.18,262.31L153.98,262.3L154.78,262.29L155.58,262.28L156.38,262.27L157.18,262.26L157.98,262.26L158.78,262.25L159.58,262.24L160.38,262.23L161.18,262.23L161.98,262.22L162.78,262.21L163.58,262.2L164.38,262.2L165.18,262.19L165.98,262.18L166.78,262.18L167.58,262.17L168.38,262.17L169.18,262.16L169.98,262.15L170.78,262.15L171.58,262.14L172.38,262.14L173.18,262.13L173.98,262.13L174.78,262.13L175.58,262.12L176.38,262.12L177.18,262.11L177.98,262.11L178.78,262.1L179.58,262.1L180.38,262.1L181.18,262.09L181.98,262.09L182.78,262.09L183.58,262.08L184.38,262.08L185.18,262.08L185.98,262.07L186.78,262.07L187.58,262.07L188.38,262.07L189.18,262.06L189.98,262.06L190.78,262.06L191.58,262.06L192.38,262.06L193.18,262.05L193.98,262.05L194.78,262.05L195.58,262.05L196.38,262.05L197.18,262.04L197.98,262.04L198.78,262.04L199.58,262.04L200.38,262.04L201.18,262.04L201.98,262.04L202.78,262.03L203.58,262.03L204.38,262.03L205.18,262.03L205.98,262.03L206.78,262.03L207.58,262.03L208.38,262.03L209.18,262.03L209.98,262.02L210.78,262.02L211.58,262.02L212.38,262.02L213.18,262.02L213.98,262.02L214.78,262.02L215.58,262.02L216.38,262.02L217.18,262.02L217.98,262.02L218.78,262.01L219.58,262.01L220.38,262.01L221.18,262.01L221.98,262.01L222.78,262.01L223.58,262.01L224.38,262.01L225.18,262.01L225.98,262.01L226.78,262L227.58,262L228.38,262L229.18,262L229.98,262L230.78,262L231.58,262L232.38,262L233.18,262L233.98,261.99L234.78,261.99L235.58,261.99L236.38,261.99L237.18,261.99L237.98,261.99L238.78,261.99L239.58,261.99L240.38,261.99L241.18,261.99L241.98,261.99L242.78,261.99L243.58,261.99L244.38,261.99L245.18,261.99L245.98,261.99L246.78,261.99L247.58,261.99L248.38,261.99L249.18,261.99L249.98,261.99L250.78,261.99L251.58,261.99L252.38,261.99L253.18,261.99L253.98,261.99L254.78,261.99L255.58,261.99L256.38,261.99L257.18,261.99L257.98,261.99L258.78,261.99L259.58,261.99L260.38,261.99L261.18,261.99L261.98,261.99L262.78,261.99L263.58,261.99L264.38,261.99L265.18,261.99L265.98,261.99L266.78,261.99L267.58,261.99L268.38,261.99L269.18,261.99L269.98,261.99L270.78,261.99L271.58,261.99L272.38,261.99L273.18,261.99L273.98,261.99L274.78,261.99L275.58,261.99L276.38,262L277.18,262L277.98,262L278.78,262L279.58,262L280.38,262L281.18,262L281.98,262L282.78,262L283.58,262L284.38,262L285.17,262L285.93,262L286.3,262" stroke="#d81e22" stroke-width="1.9" fill="none" stroke-linejoin="round" stroke-linecap="round"/>
<path d="M68.8,349.9L69.49,349.5L70.18,349.1L70.88,348.7L71.57,348.3L72.26,347.9L72.96,347.51L73.66,347.12L74.37,346.74L75.08,346.37L75.79,346.01L76.5,345.65L77.22,345.3L77.95,344.96L78.67,344.62L79.39,344.28L80.12,343.94L80.85,343.6L81.57,343.27L82.3,342.94L83.03,342.61L83.76,342.27L84.48,341.94L85.21,341.61L85.94,341.28L86.67,340.95L87.4,340.62L88.13,340.29L88.86,339.96L89.59,339.64L90.32,339.31L91.05,338.99L91.78,338.67L92.52,338.35L93.25,338.04L93.99,337.73L94.73,337.43L95.47,337.12L96.21,336.83L96.96,336.53L97.7,336.24L98.45,335.95L99.2,335.67L99.95,335.38L100.69,335.1L101.44,334.82L102.2,334.55L102.95,334.27L103.7,334L104.45,333.73L105.21,333.46L105.96,333.2L106.72,332.93L107.47,332.67L108.23,332.42L108.99,332.16L109.75,331.9L110.5,331.65L111.26,331.4L112.02,331.15L112.78,330.9L113.55,330.66L114.31,330.41L115.07,330.17L115.83,329.92L116.59,329.68L117.36,329.44L118.12,329.21L118.89,328.97L119.65,328.74L120.42,328.51L121.19,328.28L121.95,328.06L122.72,327.84L123.49,327.62L124.26,327.41L125.04,327.21L125.81,327L126.59,326.8L127.36,326.6L128.13,326.4L128.91,326.2L129.68,326L130.46,325.79L131.23,325.58L132,325.37L132.77,325.15L133.54,324.93L134.31,324.71L135.07,324.48L135.84,324.26L136.61,324.03L137.38,323.8L138.14,323.57L138.91,323.34L139.67,323.11L140.44,322.89L141.21,322.66L141.98,322.43L142.74,322.21L143.51,321.98L144.28,321.76L145.05,321.53L145.81,321.31L146.58,321.08L147.35,320.86L148.12,320.63L148.88,320.4L149.65,320.16L150.41,319.92L151.17,319.68L151.93,319.44L152.7,319.19L153.46,318.95L154.22,318.7L154.98,318.45L155.74,318.2L156.49,317.94L157.25,317.68L158.01,317.41L158.76,317.14L159.51,316.86L160.25,316.57L161,316.28L161.74,315.98L162.48,315.68L163.22,315.36L163.95,315.04L164.68,314.71L165.4,314.37L166.12,314.01L166.83,313.65L167.54,313.28L168.24,312.9L168.93,312.5L169.62,312.09L170.31,311.67L170.98,311.25L171.66,310.82L172.33,310.39L173,309.95L173.68,309.52L174.35,309.09L175.03,308.67L175.71,308.25L176.4,307.84L177.08,307.42L177.77,307.02L178.46,306.61L179.15,306.2L179.83,305.79L180.52,305.38L181.2,304.97L181.89,304.55L182.57,304.13L183.25,303.7L183.92,303.27L184.59,302.84L185.26,302.4L185.92,301.95L186.58,301.5L187.24,301.04L187.89,300.57L188.53,300.1L189.18,299.63L189.82,299.15L190.46,298.67L191.1,298.19L191.74,297.71L192.38,297.23L193.02,296.75L193.66,296.26L194.3,295.78L194.94,295.31L195.58,294.83L196.23,294.36L196.87,293.89L197.52,293.42L198.17,292.96L198.83,292.5L199.49,292.05L200.16,291.6L200.82,291.16L201.49,290.73L202.17,290.3L202.84,289.87L203.52,289.44L204.2,289.02L204.89,288.61L205.57,288.19L206.26,287.78L206.94,287.37L207.63,286.96L208.32,286.55L209.01,286.15L209.7,285.75L210.39,285.34L211.08,284.94L211.78,284.54L212.47,284.14L213.16,283.74L213.86,283.34L214.55,282.94L215.24,282.54L215.94,282.15L216.64,281.76L217.33,281.37L218.04,280.98L218.74,280.6L219.45,280.23L220.15,279.85L220.86,279.49L221.58,279.12L222.29,278.76L223,278.4L223.72,278.04L224.44,277.7L225.17,277.37L225.9,277.05L226.64,276.74L227.38,276.44L228.12,276.13L228.86,275.83L229.6,275.52L230.34,275.22L231.08,274.92L231.82,274.61L232.56,274.31L233.3,274.01L234.04,273.71L234.79,273.41L235.53,273.11L236.27,272.81L237.02,272.52L237.76,272.23L238.51,271.94L239.25,271.65L240,271.37L240.75,271.09L241.5,270.82L242.26,270.55L243.01,270.29L243.77,270.02L244.52,269.76L245.28,269.5L246.04,269.25L246.8,268.99L247.56,268.74L248.32,268.5L249.08,268.25L249.84,268.01L250.61,267.78L251.38,267.55L252.14,267.33L252.91,267.11L253.69,266.9L254.46,266.7L255.24,266.5L256.01,266.32L256.79,266.14L257.58,265.97L258.36,265.81L259.15,265.66L259.93,265.52L260.72,265.39L261.51,265.27L262.3,265.15L263.1,265.04L263.89,264.93L264.68,264.83L265.48,264.73L266.27,264.63L267.06,264.53L267.86,264.44L268.65,264.34L269.45,264.24L270.24,264.15L271.03,264.05L271.83,263.95L272.62,263.85L273.42,263.76L274.21,263.67L275.01,263.58L275.8,263.5L276.6,263.41L277.39,263.32L278.19,263.24L278.98,263.16L279.78,263.07L280.58,262.99L281.37,262.91L282.17,262.83L282.96,262.74L283.76,262.66L284.55,262.58L285.32,262.5L285.99,262.43L286.3,262.4L285.52,262.56L284.73,262.73L283.95,262.89L283.17,263.05L282.38,263.2L281.6,263.36L280.81,263.52L280.03,263.68L279.24,263.83L278.46,263.99L277.68,264.15L276.89,264.31L276.11,264.47L275.32,264.62L274.54,264.78L273.76,264.94L272.97,265.1L272.19,265.26L271.4,265.42L270.62,265.59L269.84,265.75L269.05,265.91L268.27,266.08L267.49,266.24L266.71,266.41L265.92,266.58L265.14,266.75L264.36,266.92L263.58,267.09L262.8,267.27L262.02,267.44L261.24,267.62L260.46,267.81L259.68,267.99L258.9,268.18L258.13,268.37L257.35,268.57L256.58,268.78L255.81,269L255.04,269.22L254.28,269.45L253.51,269.68L252.75,269.93L251.99,270.19L251.24,270.45L250.49,270.73L249.74,271.02L249,271.32L248.26,271.63L247.53,271.96L246.81,272.29L246.09,272.64L245.37,272.99L244.66,273.35L243.94,273.72L243.23,274.08L242.52,274.44L241.8,274.8L241.09,275.17L240.38,275.54L239.68,275.92L238.98,276.31L238.28,276.7L237.59,277.1L236.9,277.51L236.22,277.93L235.55,278.36L234.88,278.8L234.22,279.25L233.57,279.72L232.93,280.19L232.29,280.68L231.67,281.19L231.06,281.71L230.47,282.24L229.89,282.8L229.33,283.37L228.79,283.95L228.26,284.55L227.74,285.16L227.23,285.78L226.73,286.4L226.24,287.03L225.75,287.66L225.26,288.3L224.78,288.94L224.29,289.57L223.8,290.2L223.3,290.83L222.81,291.46L222.31,292.08L221.82,292.71L221.32,293.34L220.83,293.98L220.35,294.61L219.87,295.26L219.4,295.9L218.94,296.56L218.49,297.22L218.04,297.88L217.61,298.55L217.18,299.23L216.76,299.91L216.35,300.59L215.94,301.28L215.54,301.98L215.15,302.67L214.75,303.37L214.37,304.07L213.98,304.77L213.6,305.47L213.22,306.18L212.85,306.88L212.48,307.59L212.11,308.3L211.74,309.01L211.38,309.73L211.02,310.44L210.66,311.16L210.3,311.87L209.95,312.59L209.6,313.31L209.25,314.03L208.91,314.75L208.56,315.47L208.22,316.2L207.88,316.92L207.54,317.65L207.21,318.37L206.87,319.1L206.54,319.83L206.22,320.56L205.89,321.29L205.57,322.02L205.24,322.75L204.92,323.49L204.61,324.22L204.29,324.95L203.97,325.69L203.66,326.43L203.35,327.16L203.03,327.9L202.72,328.64L202.41,329.37L202.1,330.11L201.8,330.85L201.49,331.59L201.18,332.33L200.87,333.06L200.57,333.8L200.26,334.54L199.96,335.28L199.65,336.02L199.35,336.76L199.04,337.5L198.74,338.24L198.43,338.98L198.13,339.72L197.83,340.46L197.52,341.2L197.22,341.94L196.93,342.69L196.63,343.43L196.33,344.17L196.04,344.92L195.74,345.66L195.45,346.4L195.16,347.15L194.86,347.89L194.57,348.64L194.28,349.38L193.99,350.13L193.7,350.87L193.41,351.62L193.11,352.36L192.82,353.11L192.53,353.85L192.24,354.6L191.95,355.34L191.65,356.09L191.36,356.83L191.06,357.57L190.77,358.32L190.47,359.06L190.17,359.8L189.87,360.54L189.57,361.28L189.26,362.02L188.96,362.76L188.65,363.5L188.34,364.24L188.03,364.98L187.72,365.71L187.4,366.45L187.09,367.18L186.78,367.92L186.46,368.65L186.14,369.39L185.83,370.12L185.51,370.86L185.19,371.59L184.87,372.32L184.54,373.06L184.22,373.79L183.9,374.52L183.57,375.25L183.24,375.98L182.92,376.71L182.59,377.44L182.26,378.17L181.93,378.9L181.6,379.62L181.26,380.35L180.93,381.08L180.59,381.8L180.25,382.53L179.91,383.25L179.57,383.97L179.22,384.7L178.87,385.41L178.52,386.13L178.16,386.85L177.79,387.56L177.43,388.27L177.05,388.98L176.67,389.68L176.29,390.38L175.9,391.08L175.51,391.78L175.11,392.47L174.71,393.17L174.3,393.86L173.89,394.54L173.47,395.22L173.05,395.9L172.62,396.57L172.18,397.24L171.73,397.91L171.28,398.57L170.82,399.22L170.35,399.87L169.88,400.52L169.41,401.16L168.94,401.81L168.46,402.45L167.97,403.09L167.48,403.72L166.97,404.33L166.45,404.94L165.9,405.52L165.32,406.07L164.71,406.58L164.06,407.05L163.39,407.48L162.69,407.87L161.97,408.2L161.22,408.49L160.46,408.71L159.68,408.86L158.89,408.95L158.09,408.95L157.3,408.88L156.52,408.73L155.75,408.52L154.99,408.25L154.25,407.95L153.53,407.62L152.81,407.26L152.11,406.88L151.41,406.49L150.72,406.08L150.05,405.65L149.38,405.21L148.72,404.76L148.07,404.3L147.42,403.82L146.79,403.34L146.16,402.85L145.53,402.35L144.91,401.84L144.3,401.32L143.71,400.79L143.12,400.25L142.54,399.7L141.97,399.14L141.4,398.57L140.84,398L140.29,397.42L139.73,396.85L139.17,396.28L138.61,395.7L138.05,395.13L137.49,394.57L136.91,394.01L136.34,393.45L135.75,392.91L135.17,392.36L134.58,391.82L133.99,391.28L133.4,390.74L132.81,390.2L132.21,389.67L131.62,389.13L131.02,388.6L130.43,388.06L129.83,387.53L129.24,386.99L128.64,386.46L128.05,385.92L127.46,385.38L126.87,384.84L126.28,384.3L125.69,383.76L125.1,383.22L124.51,382.68L123.91,382.15L123.32,381.61L122.72,381.08L122.12,380.55L121.51,380.03L120.91,379.51L120.29,378.99L119.68,378.48L119.06,377.97L118.44,377.46L117.82,376.96L117.2,376.46L116.57,375.96L115.94,375.47L115.31,374.98L114.68,374.49L114.04,374.01L113.4,373.53L112.76,373.05L112.11,372.58L111.46,372.11L110.81,371.65L110.16,371.19L109.5,370.73L108.84,370.28L108.18,369.82L107.52,369.37L106.86,368.93L106.19,368.48L105.53,368.03L104.87,367.58L104.21,367.12L103.55,366.67L102.89,366.22L102.23,365.76L101.57,365.31L100.91,364.86L100.25,364.42L99.58,363.98L98.91,363.55L98.23,363.12L97.55,362.7L96.86,362.29L96.17,361.88L95.48,361.48L94.78,361.09L94.08,360.71L93.37,360.33L92.67,359.96L91.96,359.58L91.25,359.21L90.54,358.84L89.83,358.47L89.12,358.1L88.41,357.73L87.7,357.36L86.99,356.99L86.28,356.63L85.57,356.26L84.86,355.9L84.14,355.55L83.42,355.2L82.7,354.86L81.97,354.53L81.24,354.2L80.5,353.88L79.77,353.57L79.03,353.27L78.28,352.97L77.54,352.68L76.79,352.4L76.04,352.11L75.29,351.84L74.54,351.57L73.78,351.3L73.02,351.05L72.26,350.82L71.49,350.6L70.72,350.39L69.95,350.19L69.18,350L68.8,349.9" stroke="#111" stroke-width="1.9" fill="none" stroke-linejoin="round" stroke-linecap="round"/>
<path d="M286.3,262.1L285.5,262.11L284.7,262.11L283.9,262.12L283.1,262.12L282.3,262.13L281.5,262.13L280.7,262.14L279.9,262.14L279.1,262.15L278.3,262.15L277.5,262.16L276.7,262.16L275.9,262.17L275.1,262.17L274.3,262.18L273.5,262.19L272.7,262.19L271.9,262.2L271.1,262.2L270.3,262.21L269.5,262.22L268.7,262.22L267.9,262.23L267.1,262.24L266.3,262.25L265.5,262.26L264.7,262.27L263.9,262.28L263.1,262.29L262.3,262.3L261.5,262.31L260.7,262.32L259.9,262.33L259.1,262.35L258.3,262.36L257.5,262.38L256.7,262.4L255.9,262.41L255.1,262.43L254.3,262.45L253.5,262.47L252.7,262.49L251.9,262.52L251.1,262.54L250.3,262.56L249.5,262.59L248.7,262.61L247.91,262.64L247.11,262.66L246.31,262.69L245.51,262.72L244.71,262.74L243.91,262.77L243.11,262.8L242.31,262.83L241.51,262.86L240.71,262.89L239.91,262.92L239.11,262.95L238.31,262.98L237.51,263.01L236.71,263.05L235.91,263.08L235.11,263.11L234.31,263.14L233.52,263.18L232.72,263.21L231.92,263.24L231.12,263.28L230.32,263.31L229.52,263.34L228.72,263.38L227.92,263.41L227.12,263.45L226.32,263.48L225.52,263.51L224.72,263.55L223.92,263.58L223.12,263.61L222.33,263.65L221.53,263.68L220.73,263.72L219.93,263.75L219.13,263.79L218.33,263.82L217.53,263.86L216.73,263.89L215.93,263.93L215.13,263.97L214.33,264L213.53,264.04L212.73,264.08L211.94,264.12L211.14,264.16L210.34,264.2L209.54,264.24L208.74,264.28L207.94,264.32L207.14,264.36L206.34,264.41L205.54,264.45L204.75,264.5L203.95,264.54L203.15,264.59L202.35,264.64L201.55,264.7L200.75,264.75L199.96,264.8L199.16,264.86L198.36,264.92L197.56,264.98L196.77,265.05L195.97,265.12L195.17,265.19L194.37,265.26L193.58,265.33L192.78,265.41L191.99,265.49L191.19,265.57L190.39,265.65L189.6,265.74L188.8,265.82L188.01,265.91L187.21,266L186.42,266.09L185.62,266.18L184.83,266.27L184.03,266.36L183.24,266.45L182.44,266.53L181.65,266.62L180.85,266.71L180.06,266.79L179.26,266.88L178.47,266.96L177.67,267.04L176.87,267.13L176.08,267.21L175.28,267.29L174.49,267.37L173.69,267.45L172.9,267.54L172.1,267.62L171.3,267.71L170.51,267.8L169.71,267.88L168.92,267.98L168.12,268.07L167.33,268.16L166.54,268.26L165.74,268.37L164.95,268.47L164.16,268.58L163.37,268.69L162.57,268.81L161.78,268.93L160.99,269.06L160.21,269.19L159.42,269.33L158.63,269.47L157.84,269.61L157.05,269.75L156.27,269.9L155.48,270.04L154.7,270.19L153.91,270.34L153.12,270.49L152.34,270.63L151.55,270.77L150.76,270.92L149.97,271.06L149.19,271.19L148.4,271.33L147.61,271.47L146.82,271.6L146.03,271.74L145.24,271.87L144.45,272.01L143.67,272.14L142.88,272.28L142.09,272.42L141.3,272.55L140.51,272.69L139.73,272.83L138.94,272.98L138.15,273.12L137.37,273.27L136.58,273.41L135.79,273.57L135.01,273.72L134.22,273.88L133.44,274.04L132.66,274.2L131.87,274.36L131.09,274.53L130.31,274.7L129.53,274.87L128.75,275.04L127.97,275.21L127.18,275.38L126.4,275.56L125.62,275.74L124.84,275.92L124.06,276.09L123.28,276.27L122.51,276.46L121.73,276.64L120.95,276.82L120.17,277L119.39,277.18L118.61,277.37L117.83,277.55L117.05,277.73L116.27,277.91L115.49,278.09L114.71,278.27L113.93,278.45L113.16,278.63L112.38,278.81L111.6,279L110.82,279.18L110.04,279.37L109.26,279.56L108.49,279.75L107.71,279.95L106.94,280.15L106.17,280.36L105.39,280.57L104.62,280.78L103.86,281.01L103.09,281.24L102.33,281.48L101.56,281.72L100.81,281.97L100.05,282.23L99.29,282.5L98.54,282.77L97.79,283.05L97.04,283.33L96.3,283.62L95.55,283.91L94.81,284.2L94.07,284.5L93.33,284.81L92.59,285.11L91.85,285.42L91.11,285.73L90.37,286.04L89.64,286.36L88.91,286.68L88.18,287.02L87.46,287.36L86.74,287.71L86.02,288.07L85.31,288.43L84.61,288.81L83.9,289.19L83.2,289.58L82.5,289.97L81.81,290.37L81.12,290.77L80.43,291.18L79.75,291.6L79.08,292.03L78.42,292.48L77.76,292.94L77.12,293.41L76.49,293.9L75.87,294.41L75.26,294.94L74.67,295.48L74.1,296.03L73.53,296.6L72.98,297.18L72.45,297.77L71.92,298.38L71.42,299L70.95,299.64L70.5,300.3L70.06,300.97L69.64,301.65L69.24,302.31L68.87,302.92L68.7,303.2L69.49,303.08L70.28,302.96L71.07,302.83L71.86,302.71L72.65,302.59L73.44,302.47L74.23,302.35L75.03,302.23L75.82,302.12L76.61,302L77.4,301.9L78.2,301.79L78.99,301.69L79.78,301.59L80.58,301.5L81.37,301.4L82.17,301.31L82.96,301.22L83.76,301.13L84.55,301.04L85.35,300.95L86.14,300.87L86.94,300.78L87.73,300.7L88.53,300.62L89.33,300.54L90.12,300.46L90.92,300.39L91.71,300.31L92.51,300.24L93.31,300.17L94.11,300.1L94.9,300.04L95.7,299.98L96.5,299.92L97.3,299.86L98.09,299.81L98.89,299.76L99.69,299.71L100.49,299.66L101.29,299.62L102.09,299.58L102.89,299.54L103.69,299.5L104.48,299.46L105.28,299.43L106.08,299.39L106.88,299.36L107.68,299.33L108.48,299.3L109.28,299.27L110.08,299.24L110.88,299.21L111.68,299.18L112.48,299.15L113.28,299.12L114.08,299.09L114.88,299.07L115.68,299.04L116.48,299.01L117.28,298.99L118.08,298.96L118.88,298.94L119.67,298.92L120.47,298.9L121.27,298.89L122.07,298.88L122.87,298.87L123.67,298.87L124.47,298.87L125.27,298.87L126.07,298.89L126.87,298.91L127.67,298.93L128.47,298.96L129.27,299L130.07,299.04L130.87,299.09L131.67,299.14L132.47,299.21L133.26,299.27L134.06,299.35L134.85,299.43L135.65,299.51L136.44,299.6L137.24,299.7L138.03,299.81L138.82,299.92L139.62,300.04L140.41,300.16L141.19,300.29L141.98,300.43L142.77,300.58L143.55,300.74L144.34,300.9L145.12,301.07L145.9,301.25L146.68,301.44L147.45,301.63L148.23,301.83L149,302.04L149.77,302.25L150.54,302.48L151.3,302.71L152.06,302.97L152.81,303.23L153.56,303.51L154.31,303.8L155.05,304.1L155.79,304.42L156.52,304.74L157.25,305.07L157.98,305.4L158.7,305.73L159.43,306.07L160.15,306.42L160.86,306.78L161.57,307.15L162.26,307.55L162.94,307.98L163.6,308.43L164.25,308.9L164.88,309.39L165.5,309.89L166.11,310.41L166.71,310.94L167.3,311.48L167.88,312.03L168.45,312.59L169.01,313.16L169.56,313.74L170.1,314.33L170.63,314.93L171.15,315.54L171.66,316.16L172.15,316.79L172.63,317.43L173.1,318.07L173.56,318.73L174.01,319.39L174.46,320.05L174.9,320.72L175.34,321.39L175.76,322.07L176.18,322.75L176.59,323.43L177,324.12L177.4,324.81L177.8,325.51L178.2,326.2L178.6,326.89L178.99,327.59L179.39,328.28L179.79,328.98L180.18,329.67L180.58,330.37L180.97,331.07L181.36,331.77L181.75,332.47L182.14,333.17L182.52,333.87L182.9,334.57L183.28,335.27L183.66,335.98L184.03,336.69L184.41,337.39L184.77,338.1L185.14,338.82L185.51,339.53L185.87,340.24L186.23,340.96L186.59,341.67L186.94,342.39L187.3,343.1L187.65,343.82L188,344.54L188.35,345.26L188.7,345.98L189.04,346.7L189.39,347.43L189.73,348.15L190.06,348.87L190.4,349.6L190.73,350.33L191.06,351.06L191.39,351.79L191.72,352.52L192.04,353.25L192.36,353.98L192.68,354.72L192.99,355.45L193.29,356.19L193.59,356.93L193.89,357.68L194.18,358.42L194.47,359.17L194.76,359.91L195.06,360.66L195.35,361.4L195.65,362.14L195.97,362.88L196.29,363.61L196.63,364.33L196.99,365.05L197.36,365.76L197.75,366.45L198.16,367.14L198.61,367.8L199.11,368.41L199.7,368.9L200.36,369.13L201.01,368.99L201.57,368.52L202.01,367.88L202.37,367.17L202.68,366.44L202.95,365.69L203.2,364.93L203.44,364.16L203.66,363.39L203.87,362.62L204.07,361.85L204.27,361.07L204.46,360.29L204.64,359.52L204.82,358.74L204.99,357.95L205.15,357.17L205.31,356.39L205.47,355.6L205.62,354.82L205.77,354.03L205.92,353.25L206.06,352.46L206.21,351.67L206.35,350.88L206.49,350.1L206.63,349.31L206.77,348.52L206.91,347.73L207.04,346.95L207.18,346.16L207.31,345.37L207.44,344.58L207.57,343.79L207.7,343L207.82,342.21L207.95,341.42L208.07,340.63L208.19,339.84L208.32,339.05L208.44,338.26L208.56,337.47L208.69,336.68L208.82,335.89L208.95,335.1L209.08,334.31L209.21,333.52L209.35,332.73L209.49,331.94L209.63,331.16L209.77,330.37L209.92,329.58L210.06,328.8L210.21,328.01L210.36,327.22L210.51,326.44L210.66,325.65L210.82,324.87L210.97,324.08L211.13,323.3L211.28,322.51L211.44,321.73L211.59,320.94L211.75,320.16L211.91,319.37L212.06,318.59L212.22,317.81L212.39,317.02L212.55,316.24L212.71,315.46L212.87,314.67L213.04,313.89L213.21,313.11L213.37,312.33L213.54,311.54L213.71,310.76L213.88,309.98L214.04,309.2L214.21,308.41L214.38,307.63L214.55,306.85L214.72,306.07L214.9,305.29L215.07,304.51L215.25,303.73L215.42,302.95L215.6,302.17L215.79,301.39L215.97,300.61L216.17,299.83L216.36,299.06L216.56,298.28L216.76,297.51L216.96,296.74L217.17,295.96L217.38,295.19L217.6,294.42L217.82,293.65L218.04,292.88L218.26,292.11L218.48,291.35L218.71,290.58L218.95,289.81L219.18,289.05L219.42,288.29L219.66,287.52L219.9,286.76L220.14,286L220.39,285.24L220.64,284.48L220.89,283.72L221.14,282.96L221.39,282.2L221.66,281.44L221.93,280.69L222.22,279.95L222.52,279.21L222.85,278.48L223.19,277.75L223.56,277.04L223.94,276.34L224.35,275.66L224.79,274.98L225.24,274.33L225.72,273.69L226.23,273.07L226.75,272.47L227.3,271.88L227.87,271.33L228.47,270.79L229.09,270.29L229.74,269.83L230.41,269.4L231.09,268.98L231.78,268.56L232.45,268.13L233.13,267.71L233.82,267.31L234.54,266.95L235.27,266.63L236.01,266.35L236.77,266.1L237.54,265.87L238.31,265.66L239.09,265.46L239.87,265.28L240.65,265.1L241.43,264.94L242.22,264.79L243,264.65L243.79,264.51L244.58,264.39L245.37,264.27L246.17,264.16L246.96,264.06L247.75,263.96L248.55,263.87L249.34,263.78L250.14,263.69L250.93,263.61L251.73,263.53L252.53,263.46L253.32,263.39L254.12,263.32L254.92,263.25L255.71,263.19L256.51,263.13L257.31,263.07L258.11,263.02L258.91,262.96L259.71,262.91L260.5,262.87L261.3,262.82L262.1,262.78L262.9,262.74L263.7,262.7L264.5,262.66L265.3,262.63L266.1,262.6L266.9,262.57L267.7,262.55L268.5,262.53L269.3,262.5L270.1,262.48L270.9,262.46L271.69,262.45L272.49,262.43L273.29,262.41L274.09,262.4L274.89,262.38L275.69,262.37L276.49,262.35L277.29,262.34L278.09,262.33L278.89,262.32L279.69,262.3L280.49,262.29L281.29,262.28L282.09,262.27L282.89,262.26L283.69,262.24L284.49,262.23L285.27,262.22L285.97,262.21L286.3,262.2" stroke="#1f1fd0" stroke-width="1.9" fill="none" stroke-linejoin="round" stroke-linecap="round"/>
<path d="M389.4,316.9L389.83,316.23L390.26,315.55L390.69,314.87L391.11,314.2L391.54,313.52L391.96,312.84L392.4,312.17L392.83,311.5L393.28,310.83L393.73,310.17L394.19,309.52L394.65,308.87L395.13,308.23L395.62,307.59L396.12,306.97L396.63,306.35L397.15,305.75L397.68,305.15L398.22,304.55L398.76,303.96L399.3,303.38L399.85,302.79L400.4,302.22L400.96,301.64L401.52,301.07L402.09,300.51L402.65,299.94L403.23,299.38L403.8,298.83L404.38,298.28L404.96,297.73L405.55,297.18L406.14,296.65L406.74,296.11L407.34,295.58L407.94,295.06L408.55,294.54L409.16,294.02L409.78,293.51L410.4,293.01L411.03,292.52L411.66,292.02L412.3,291.54L412.94,291.06L413.58,290.58L414.23,290.12L414.88,289.65L415.54,289.2L416.2,288.75L416.86,288.3L417.53,287.86L418.2,287.43L418.88,287L419.56,286.57L420.24,286.16L420.93,285.75L421.62,285.35L422.32,284.95L423.02,284.57L423.72,284.19L424.43,283.81L425.14,283.45L425.85,283.09L426.57,282.73L427.29,282.38L428.01,282.04L428.74,281.7L429.47,281.37L430.2,281.04L430.93,280.72L431.66,280.4L432.4,280.09L433.14,279.78L433.88,279.48L434.62,279.19L435.37,278.9L436.12,278.62L436.87,278.35L437.62,278.08L438.38,277.82L439.14,277.56L439.9,277.31L440.66,277.07L441.42,276.82L442.19,276.59L442.95,276.35L443.72,276.12L444.48,275.89L445.25,275.66L446.02,275.43L446.78,275.21L447.55,275L448.33,274.78L449.1,274.58L449.87,274.37L450.65,274.17L451.42,273.98L452.2,273.78L452.98,273.59L453.75,273.41L454.53,273.22L455.31,273.04L456.09,272.86L456.87,272.69L457.65,272.51L458.43,272.34L459.22,272.18L460,272.01L460.78,271.86L461.57,271.7L462.36,271.55L463.14,271.41L463.93,271.26L464.72,271.12L465.5,270.98L466.29,270.83L467.08,270.69L467.86,270.55L468.65,270.41L469.44,270.26L470.22,270.11L471.01,269.96L471.8,269.81L472.58,269.66L473.37,269.5L474.15,269.35L474.94,269.19L475.72,269.03L476.5,268.88L477.29,268.73L478.08,268.57L478.86,268.42L479.65,268.28L480.43,268.13L481.22,267.99L482.01,267.86L482.8,267.73L483.59,267.6L484.38,267.48L485.17,267.37L485.97,267.26L486.76,267.15L487.55,267.06L488.35,266.97L489.14,266.89L489.94,266.82L490.74,266.75L491.53,266.68L492.33,266.61L493.13,266.55L493.93,266.48L494.72,266.41L495.52,266.35L496.32,266.28L497.12,266.22L497.91,266.15L498.71,266.09L499.51,266.02L500.3,265.96L501.1,265.9L501.9,265.83L502.7,265.77L503.49,265.7L504.29,265.64L505.09,265.58L505.89,265.52L506.68,265.46L507.48,265.39L508.28,265.33L509.08,265.27L509.88,265.21L510.67,265.15L511.47,265.09L512.27,265.04L513.07,264.98L513.86,264.92L514.66,264.86L515.46,264.81L516.26,264.75L517.06,264.7L517.86,264.64L518.65,264.59L519.45,264.54L520.25,264.49L521.05,264.44L521.85,264.39L522.65,264.34L523.44,264.29L524.24,264.24L525.04,264.2L525.84,264.15L526.64,264.11L527.44,264.07L528.24,264.03L529.04,263.99L529.83,263.95L530.63,263.91L531.43,263.87L532.23,263.83L533.03,263.8L533.83,263.76L534.63,263.73L535.43,263.69L536.23,263.66L537.03,263.63L537.83,263.59L538.63,263.56L539.43,263.53L540.23,263.5L541.02,263.47L541.82,263.44L542.62,263.41L543.42,263.39L544.22,263.36L545.02,263.33L545.82,263.31L546.62,263.28L547.42,263.25L548.22,263.23L549.02,263.2L549.82,263.18L550.62,263.15L551.42,263.13L552.22,263.11L553.02,263.08L553.82,263.06L554.62,263.04L555.42,263.02L556.22,262.99L557.02,262.97L557.82,262.95L558.62,262.93L559.42,262.91L560.22,262.89L561.02,262.87L561.82,262.86L562.62,262.84L563.42,262.82L564.21,262.8L565.01,262.79L565.81,262.77L566.61,262.75L567.41,262.74L568.21,262.72L569.01,262.71L569.81,262.7L570.61,262.68L571.41,262.67L572.21,262.65L573.01,262.64L573.81,262.63L574.61,262.61L575.41,262.6L576.21,262.59L577.01,262.58L577.81,262.57L578.61,262.55L579.41,262.54L580.21,262.53L581.01,262.52L581.81,262.51L582.61,262.5L583.41,262.49L584.21,262.48L585.01,262.47L585.81,262.45L586.61,262.44L587.41,262.43L588.21,262.42L589.01,262.41L589.81,262.4L590.61,262.39L591.41,262.38L592.21,262.37L593.01,262.36L593.81,262.36L594.61,262.35L595.41,262.34L596.21,262.33L597.01,262.33L597.81,262.32L598.61,262.31L599.41,262.31L600.21,262.3L601.01,262.29L601.81,262.29L602.61,262.28L603.41,262.28L604.21,262.27L605.01,262.27L605.81,262.26L606.61,262.26L607.41,262.26L608.21,262.25L609.01,262.25L609.81,262.24L610.61,262.24L611.41,262.23L612.21,262.23L613.01,262.23L613.81,262.22L614.61,262.22L615.41,262.21L616.21,262.21L616.97,262.21L617.62,262.2L617.9,262.2M617.9,262.3L617.1,262.31L616.3,262.31L615.5,262.32L614.7,262.33L613.9,262.33L613.1,262.34L612.3,262.35L611.5,262.35L610.7,262.36L609.9,262.36L609.1,262.37L608.3,262.38L607.5,262.38L606.7,262.39L605.9,262.4L605.1,262.4L604.3,262.41L603.5,262.42L602.7,262.42L601.9,262.43L601.1,262.44L600.3,262.45L599.5,262.46L598.7,262.47L597.9,262.48L597.1,262.49L596.3,262.5L595.5,262.51L594.7,262.52L593.9,262.53L593.1,262.55L592.3,262.56L591.5,262.57L590.7,262.59L589.9,262.6L589.1,262.62L588.3,262.63L587.5,262.65L586.7,262.66L585.9,262.68L585.1,262.69L584.3,262.71L583.5,262.72L582.7,262.74L581.9,262.76L581.1,262.77L580.3,262.79L579.5,262.8L578.7,262.82L577.9,262.84L577.1,262.86L576.3,262.87L575.5,262.89L574.7,262.91L573.91,262.93L573.11,262.95L572.31,262.97L571.51,262.99L570.71,263.01L569.91,263.03L569.11,263.05L568.31,263.07L567.51,263.09L566.71,263.11L565.91,263.14L565.11,263.16L564.31,263.19L563.51,263.21L562.71,263.24L561.91,263.27L561.11,263.3L560.31,263.33L559.51,263.36L558.71,263.39L557.91,263.42L557.11,263.45L556.31,263.49L555.52,263.52L554.72,263.56L553.92,263.6L553.12,263.64L552.32,263.68L551.52,263.72L550.72,263.76L549.92,263.8L549.12,263.85L548.32,263.89L547.53,263.94L546.73,263.98L545.93,264.03L545.13,264.08L544.33,264.12L543.53,264.17L542.73,264.22L541.94,264.27L541.14,264.32L540.34,264.38L539.54,264.43L538.74,264.48L537.94,264.54L537.15,264.59L536.35,264.64L535.55,264.7L534.75,264.76L533.95,264.81L533.16,264.87L532.36,264.93L531.56,264.99L530.76,265.05L529.97,265.11L529.17,265.17L528.37,265.23L527.57,265.29L526.77,265.36L525.98,265.42L525.18,265.49L524.38,265.55L523.59,265.62L522.79,265.69L521.99,265.77L521.2,265.85L520.4,265.93L519.61,266.01L518.81,266.1L518.02,266.2L517.22,266.3L516.43,266.4L515.64,266.51L514.84,266.62L514.05,266.73L513.26,266.84L512.47,266.96L511.68,267.07L510.88,267.18L510.09,267.29L509.3,267.39L508.5,267.5L507.71,267.61L506.92,267.71L506.13,267.82L505.33,267.93L504.54,268.04L503.75,268.15L502.96,268.26L502.17,268.38L501.37,268.49L500.58,268.61L499.79,268.73L499,268.85L498.21,268.97L497.42,269.09L496.63,269.22L495.84,269.35L495.05,269.48L494.26,269.61L493.47,269.75L492.69,269.89L491.9,270.04L491.11,270.19L490.33,270.35L489.55,270.51L488.76,270.67L487.98,270.83L487.2,270.99L486.41,271.16L485.63,271.32L484.85,271.48L484.06,271.64L483.28,271.8L482.49,271.96L481.71,272.11L480.92,272.27L480.14,272.42L479.35,272.57L478.57,272.72L477.78,272.87L477,273.03L476.21,273.18L475.43,273.33L474.64,273.49L473.86,273.65L473.07,273.81L472.29,273.97L471.51,274.14L470.73,274.31L469.94,274.48L469.16,274.65L468.38,274.83L467.6,275L466.82,275.18L466.04,275.36L465.26,275.54L464.48,275.72L463.71,275.91L462.93,276.09L462.15,276.29L461.38,276.49L460.6,276.69L459.83,276.9L459.06,277.11L458.29,277.33L457.52,277.56L456.76,277.79L455.99,278.02L455.23,278.26L454.47,278.51L453.71,278.75L452.95,279.01L452.19,279.26L451.43,279.53L450.68,279.79L449.93,280.06L449.18,280.33L448.43,280.61L447.68,280.89L446.93,281.18L446.18,281.47L445.44,281.77L444.7,282.06L443.96,282.37L443.22,282.67L442.48,282.98L441.75,283.3L441.01,283.61L440.28,283.94L439.55,284.26L438.82,284.59L438.09,284.92L437.37,285.26L436.64,285.6L435.92,285.95L435.2,286.3L434.48,286.65L433.77,287.01L433.05,287.37L432.34,287.74L431.63,288.11L430.93,288.48L430.22,288.86L429.52,289.25L428.82,289.64L428.13,290.03L427.43,290.43L426.74,290.83L426.05,291.23L425.35,291.63L424.66,292.03L423.97,292.43L423.28,292.84L422.59,293.25L421.9,293.65L421.21,294.06L420.52,294.46L419.83,294.86L419.14,295.26L418.45,295.66L417.75,296.06L417.06,296.46L416.36,296.85L415.67,297.25L414.97,297.64L414.28,298.04L413.58,298.44L412.89,298.84L412.2,299.25L411.52,299.66L410.84,300.08L410.16,300.5L409.48,300.93L408.81,301.37L408.14,301.81L407.48,302.26L406.82,302.71L406.17,303.17L405.52,303.64L404.87,304.11L404.23,304.59L403.59,305.06L402.95,305.54L402.31,306.03L401.68,306.51L401.04,307L400.41,307.49L399.78,307.99L399.15,308.48L398.53,308.98L397.9,309.48L397.28,309.98L396.65,310.48L396.03,310.99L395.42,311.5L394.81,312.01L394.2,312.54L393.6,313.07L393,313.6L392.41,314.13L391.82,314.67L391.23,315.21L390.65,315.76L390.09,316.27L389.61,316.71L389.4,316.9" stroke="#111" stroke-width="1.9" fill="none" stroke-linejoin="round" stroke-linecap="round"/>
<path d="M388.7,262.2L617.9,262.1" stroke="#d81e22" stroke-width="1.9" fill="none" stroke-linejoin="round" stroke-linecap="round"/>
<path d="M617.9,262.1L617.1,262.11L616.3,262.12L615.5,262.13L614.7,262.14L613.9,262.15L613.1,262.16L612.3,262.17L611.5,262.18L610.7,262.19L609.9,262.2L609.1,262.21L608.3,262.22L607.5,262.23L606.7,262.24L605.9,262.25L605.1,262.26L604.3,262.27L603.5,262.28L602.7,262.29L601.9,262.3L601.1,262.31L600.3,262.32L599.5,262.33L598.7,262.34L597.9,262.35L597.1,262.36L596.3,262.37L595.5,262.38L594.7,262.39L593.9,262.4L593.1,262.42L592.3,262.43L591.5,262.44L590.7,262.45L589.9,262.46L589.1,262.48L588.3,262.49L587.5,262.5L586.7,262.52L585.9,262.53L585.1,262.55L584.3,262.56L583.5,262.58L582.7,262.59L581.9,262.61L581.1,262.62L580.3,262.64L579.5,262.66L578.7,262.68L577.9,262.7L577.11,262.72L576.31,262.75L575.51,262.77L574.71,262.79L573.91,262.81L573.11,262.83L572.31,262.85L571.51,262.87L570.71,262.9L569.91,262.92L569.11,262.94L568.31,262.97L567.51,263L566.71,263.03L565.91,263.07L565.11,263.11L564.31,263.15L563.51,263.2L562.72,263.25L561.92,263.3L561.12,263.36L560.32,263.42L559.52,263.49L558.73,263.55L557.93,263.62L557.13,263.7L556.34,263.77L555.54,263.85L554.74,263.92L553.95,264L553.15,264.09L552.36,264.17L551.56,264.26L550.77,264.34L549.97,264.43L549.18,264.52L548.38,264.61L547.59,264.71L546.79,264.8L546,264.89L545.2,264.99L544.41,265.09L543.62,265.18L542.82,265.28L542.03,265.38L541.23,265.48L540.44,265.58L539.65,265.68L538.85,265.78L538.06,265.88L537.27,265.99L536.47,266.09L535.68,266.19L534.89,266.3L534.09,266.41L533.3,266.51L532.51,266.62L531.72,266.73L530.92,266.84L530.13,266.95L529.34,267.06L528.55,267.17L527.76,267.29L526.96,267.4L526.17,267.52L525.38,267.64L524.59,267.77L523.8,267.9L523.01,268.03L522.23,268.18L521.44,268.34L520.67,268.53L519.91,268.77L519.16,269.04L518.41,269.34L517.67,269.63L516.91,269.89L516.15,270.14L515.39,270.4L514.64,270.65L513.88,270.91L513.13,271.18L512.37,271.44L511.62,271.71L510.86,271.98L510.11,272.25L509.36,272.52L508.6,272.78L507.85,273.04L507.09,273.3L506.33,273.55L505.57,273.8L504.8,274.02L504.03,274.23L503.25,274.43L502.48,274.62L501.7,274.81L500.93,275.02L500.17,275.27L499.42,275.55L498.69,275.87L497.97,276.22L497.26,276.59L496.55,276.95L495.82,277.29L495.09,277.62L494.35,277.92L493.61,278.21L492.86,278.5L492.11,278.78L491.37,279.07L490.62,279.36L489.89,279.67L489.16,280L488.44,280.36L487.75,280.76L487.08,281.19L486.43,281.66L485.81,282.16L485.2,282.68L484.62,283.23L484.05,283.79L483.5,284.36L482.95,284.95L482.4,285.53L481.86,286.12L481.34,286.72L480.83,287.34L480.35,287.98L479.89,288.64L479.47,289.31L479.07,290.01L478.7,290.71L478.35,291.43L478.02,292.16L477.7,292.9L477.39,293.63L477.09,294.38L476.79,295.12L476.5,295.86L476.21,296.61L475.92,297.35L475.62,298.1L475.32,298.84L475.02,299.58L474.72,300.32L474.41,301.06L474.11,301.8L473.82,302.54L473.53,303.29L473.24,304.04L472.96,304.78L472.68,305.53L472.39,306.28L472.11,307.03L471.83,307.78L471.56,308.53L471.29,309.28L471.03,310.04L470.77,310.8L470.53,311.56L470.3,312.33L470.08,313.1L469.86,313.87L469.65,314.64L469.45,315.41L469.25,316.19L469.05,316.96L468.86,317.74L468.67,318.52L468.48,319.29L468.29,320.07L468.11,320.85L467.92,321.63L467.74,322.41L467.56,323.19L467.38,323.97L467.2,324.74L467.02,325.52L466.84,326.3L466.66,327.08L466.49,327.87L466.32,328.65L466.15,329.43L465.98,330.21L465.81,330.99L465.64,331.77L465.48,332.56L465.31,333.34L465.15,334.12L464.98,334.91L464.82,335.69L464.66,336.47L464.5,337.26L464.33,338.04L464.17,338.82L464.01,339.61L463.85,340.39L463.69,341.17L463.54,341.96L463.38,342.74L463.23,343.53L463.07,344.31L462.92,345.1L462.76,345.88L462.61,346.67L462.45,347.45L462.29,348.24L462.14,349.02L461.98,349.81L461.82,350.59L461.66,351.37L461.5,352.16L461.34,352.94L461.17,353.72L461.01,354.51L460.85,355.29L460.68,356.07L460.52,356.86L460.35,357.64L460.19,358.42L460.03,359.21L459.86,359.99L459.7,360.77L459.55,361.56L459.39,362.34L459.24,363.13L459.08,363.91L458.94,364.7L458.79,365.48L458.65,366.27L458.51,367.06L458.37,367.85L458.23,368.64L458.1,369.42L457.96,370.21L457.82,371L457.68,371.79L457.54,372.57L457.39,373.36L457.24,374.15L457.09,374.93L456.93,375.72L456.78,376.5L456.61,377.28L456.45,378.07L456.28,378.85L456.11,379.63L455.94,380.41L455.77,381.2L455.6,381.98L455.43,382.76L455.25,383.54L455.08,384.32L454.9,385.1L454.72,385.88L454.55,386.66L454.37,387.44L454.2,388.22L454.02,389L453.85,389.78L453.68,390.56L453.5,391.34L453.33,392.13L453.16,392.91L452.99,393.69L452.83,394.47L452.66,395.25L452.49,396.04L452.32,396.82L452.14,397.6L451.97,398.38L451.79,399.16L451.62,399.94L451.43,400.72L451.25,401.5L451.05,402.27L450.85,403.05L450.64,403.82L450.42,404.59L450.19,405.35L449.94,406.11L449.69,406.87L449.44,407.63L449.2,408.4L448.96,409.16L448.73,409.92L448.51,410.69L448.3,411.47L448.09,412.24L447.89,413.01L447.69,413.79L447.49,414.56L447.29,415.34L447.09,416.11L446.88,416.88L446.66,417.65L446.44,418.42L446.2,419.18L445.94,419.94L445.64,420.68L445.3,421.4L444.92,422.1L444.48,422.76L443.97,423.37L443.38,423.88L442.73,424.18L442.09,424.12L441.54,423.7L441.09,423.07L440.68,422.39L440.27,421.69L439.88,421L439.5,420.3L439.12,419.59L438.76,418.88L438.4,418.16L438.05,417.44L437.71,416.72L437.37,415.99L437.05,415.26L436.74,414.53L436.44,413.78L436.15,413.04L435.88,412.29L435.61,411.53L435.35,410.77L435.1,410.02L434.84,409.26L434.58,408.5L434.32,407.75L434.06,406.99L433.78,406.24L433.5,405.49L433.22,404.74L432.92,404L432.61,403.26L432.3,402.52L431.98,401.79L431.67,401.06L431.34,400.32L431.02,399.59L430.69,398.86L430.36,398.13L430.02,397.41L429.69,396.68L429.35,395.96L429.01,395.23L428.66,394.51L428.31,393.79L427.96,393.08L427.6,392.36L427.24,391.65L426.87,390.94L426.5,390.23L426.12,389.52L425.74,388.82L425.35,388.12L424.96,387.42L424.57,386.73L424.16,386.04L423.75,385.35L423.34,384.67L422.91,383.99L422.48,383.31L422.04,382.64L421.6,381.98L421.15,381.32L420.7,380.66L420.23,380.01L419.76,379.36L419.29,378.71L418.81,378.08L418.32,377.44L417.83,376.81L417.33,376.18L416.83,375.56L416.33,374.93L415.82,374.31L415.32,373.7L414.81,373.08L414.3,372.47L413.78,371.85L413.27,371.24L412.75,370.63L412.23,370.02L411.71,369.41L411.19,368.81L410.66,368.2L410.13,367.6L409.6,367.01L409.07,366.41L408.53,365.82L407.99,365.23L407.45,364.64L406.91,364.05L406.36,363.46L405.82,362.88L405.27,362.29L404.72,361.71L404.17,361.13L403.62,360.55L403.07,359.97L402.52,359.39L401.96,358.82L401.4,358.24L400.84,357.67L400.28,357.1L399.72,356.54L399.15,355.97L398.58,355.41L398,354.86L397.42,354.3L396.84,353.76L396.25,353.22L395.65,352.68L395.05,352.15L394.45,351.63L393.84,351.11L393.23,350.59L392.62,350.08L392,349.57L391.39,349.06L390.78,348.55L390.18,348.05L389.65,347.61L389.4,347.4L389.54,346.61L389.68,345.82L389.83,345.04L390,344.26L390.19,343.48L390.42,342.72L390.67,341.96L390.94,341.2L391.22,340.46L391.52,339.71L391.83,338.98L392.15,338.24L392.47,337.51L392.81,336.79L393.16,336.07L393.54,335.36L393.93,334.67L394.35,333.99L394.8,333.32L395.26,332.67L395.74,332.03L396.24,331.4L396.74,330.78L397.24,330.16L397.75,329.54L398.26,328.92L398.78,328.31L399.29,327.7L399.82,327.1L400.35,326.5L400.88,325.9L401.43,325.32L401.98,324.74L402.54,324.17L403.11,323.6L403.68,323.04L404.26,322.49L404.84,321.95L405.43,321.41L406.03,320.87L406.63,320.35L407.24,319.83L407.86,319.32L408.49,318.83L409.13,318.35L409.78,317.89L410.44,317.44L411.11,316.99L411.78,316.55L412.44,316.11L413.11,315.67L413.77,315.22L414.42,314.76L415.08,314.29L415.72,313.82L416.37,313.35L417.02,312.89L417.67,312.42L418.33,311.96L418.99,311.51L419.66,311.07L420.33,310.64L421,310.21L421.69,309.79L422.37,309.38L423.06,308.97L423.75,308.57L424.45,308.18L425.15,307.79L425.85,307.41L426.56,307.03L427.27,306.67L427.99,306.31L428.7,305.96L429.42,305.61L430.14,305.26L430.86,304.91L431.59,304.57L432.31,304.23L433.03,303.89L433.76,303.55L434.49,303.22L435.21,302.88L435.94,302.55L436.67,302.21L437.39,301.88L438.12,301.55L438.85,301.21L439.58,300.88L440.3,300.55L441.03,300.22L441.76,299.88L442.48,299.55L443.21,299.21L443.93,298.86L444.65,298.52L445.37,298.17L446.09,297.81L446.8,297.45L447.52,297.09L448.23,296.73L448.95,296.37L449.66,296.01L450.37,295.65L451.09,295.29L451.8,294.92L452.51,294.56L453.23,294.2L453.94,293.84L454.66,293.49L455.38,293.13L456.09,292.78L456.81,292.43L457.53,292.08L458.26,291.74L458.98,291.39L459.7,291.05L460.42,290.71L461.15,290.36L461.87,290.02L462.6,289.69L463.32,289.35L464.05,289.01L464.78,288.68L465.5,288.35L466.24,288.03L466.97,287.7L467.7,287.39L468.44,287.07L469.18,286.76L469.92,286.46L470.66,286.16L471.4,285.87L472.15,285.58L472.9,285.3L473.65,285.02L474.4,284.75L475.15,284.48L475.91,284.21L476.66,283.95L477.42,283.69L478.17,283.43L478.93,283.17L479.69,282.92L480.45,282.66L481.21,282.42L481.97,282.17L482.73,281.93L483.5,281.7L484.27,281.5L485.06,281.33L485.84,281.18L486.62,281.02L487.39,280.81L488.15,280.56L488.9,280.28L489.64,279.98L490.38,279.68L491.12,279.36L491.85,279.05L492.59,278.73L493.32,278.41L494.05,278.09L494.75,277.78L495.4,277.5" stroke="#1f1fd0" stroke-width="1.9" fill="none" stroke-linejoin="round" stroke-linecap="round"/>
<path d="M257.9,20.1H279.2" stroke="#111" stroke-width="1.9"/>
<text x="281.33" y="23.2" class="t">a</text>
<path d="M257.9,33.7H279.2" stroke="#d81e22" stroke-width="1.9"/>
<text x="281.33" y="36.8" class="t">b</text>
<path d="M257.9,47H279.2" stroke="#1f1fd0" stroke-width="1.9"/>
<text x="281.33" y="50.1" class="t">c</text>
<path d="M584.2,20H605.4" stroke="#111" stroke-width="1.9"/>
<text x="607.83" y="23.1" class="t">a</text>
<path d="M584.2,33.4H605.4" stroke="#d81e22" stroke-width="1.9"/>
<text x="607.83" y="36.5" class="t">b</text>
<path d="M584.2,47.1H605.4" stroke="#1f1fd0" stroke-width="1.9"/>
<text x="607.83" y="50.2" class="t">c</text>
<path d="M252.9,285.3H274.1" stroke="#111" stroke-width="1.9"/>
<text x="276.53" y="288.4" class="t">a</text>
<path d="M252.9,298.8H274.1" stroke="#d81e22" stroke-width="1.9"/>
<text x="276.53" y="301.9" class="t">b</text>
<path d="M252.9,312.2H274.1" stroke="#1f1fd0" stroke-width="1.9"/>
<text x="276.53" y="315.3" class="t">c</text>
<path d="M584.2,277.1H605.4" stroke="#111" stroke-width="1.9"/>
<text x="607.83" y="280.2" class="t">a</text>
<path d="M584.2,290.5H605.4" stroke="#d81e22" stroke-width="1.9"/>
<text x="607.83" y="293.6" class="t">b</text>
<path d="M584.2,304H605.4" stroke="#1f1fd0" stroke-width="1.9"/>
<text x="607.83" y="307.1" class="t">c</text>
<rect x="214.6" y="370.5" width="76.2" height="56.5" fill="#fff" stroke="#333" stroke-width="1"/>
<text x="212.4" y="376.9" text-anchor="end" class="s">0.000</text>
<text x="212.4" y="386.3" text-anchor="end" class="s">-0.005</text>
<text x="212.4" y="395.6" text-anchor="end" class="s">-0.010</text>
<text x="212.4" y="405" text-anchor="end" class="s">-0.015</text>
<text x="212.4" y="414.4" text-anchor="end" class="s">-0.020</text>
<text x="212.4" y="424" text-anchor="end" class="s">-0.025</text>
<text x="220.6" y="432.5" text-anchor="middle" class="s">-1.5</text>
<text x="232.9" y="432.5" text-anchor="middle" class="s">-1.2</text>
<text x="245.3" y="432.5" text-anchor="middle" class="s">-0.9</text>
<text x="258" y="432.5" text-anchor="middle" class="s">-0.6</text>
<text x="270.2" y="432.5" text-anchor="middle" class="s">-0.3</text>
<text x="282.7" y="432.5" text-anchor="middle" class="s">0.0</text>
<text x="252.2" y="439.2" text-anchor="middle" class="s">Potential / V vs. Ag/AgCl</text>
<text transform="translate(198.2,399.8) rotate(-90)" text-anchor="middle" class="s">Current / mA</text>
<path d="M220.6,421.5 C220.98,419.8 221.95,414.25 222.9,411.3 C223.85,408.35 224.82,406.07 226.3,403.8 C227.78,401.53 229.52,399.73 231.8,397.7 C234.08,395.67 237.28,393.42 240,391.6 C242.72,389.78 245.38,388.4 248.1,386.8 C250.82,385.2 253.57,383.43 256.3,382 C259.03,380.57 262.23,379.33 264.5,378.2 C266.77,377.07 268.08,375.92 269.9,375.2 C271.72,374.48 273,374.2 275.4,373.9 C277.8,373.6 282.82,373.48 284.3,373.4 M284.3,375.6 C282.82,375.65 277.45,375.52 275.4,375.9 C273.35,376.28 272.92,376.77 272,377.9 C271.08,379.03 270.47,380.32 269.9,382.7 C269.33,385.08 269.05,388.57 268.6,392.2 C268.15,395.83 267.62,401.72 267.2,404.5 C266.78,407.28 266.48,408.9 266.1,408.9 C265.72,408.9 265.4,406.6 264.9,404.5 C264.4,402.4 263.85,398.57 263.1,396.3 C262.35,394.03 261.53,392.07 260.4,390.9 C259.27,389.73 257.88,389.42 256.3,389.3 C254.72,389.18 253.17,389.25 250.9,390.2 C248.63,391.15 245.43,393.07 242.7,395 C239.97,396.93 237,399.53 234.5,401.8 C232,404.07 229.52,406.33 227.7,408.6 C225.88,410.87 224.78,413.25 223.6,415.4 C222.42,417.55 221.1,420.48 220.6,421.5" stroke="#d83a3a" stroke-width="1.1" fill="none" stroke-linejoin="round"/>
<path d="M272.9,404.9H278.8" stroke="#d83a3a" stroke-width="1"/>
<text x="279.8" y="406.4" class="s">b</text>
<rect x="540.3" y="370.2" width="76.7" height="56.1" fill="#fff" stroke="#333" stroke-width="1"/>
<text x="538.6" y="375.4" text-anchor="end" class="s">0.000</text>
<text x="538.6" y="383.4" text-anchor="end" class="s">-0.003</text>
<text x="538.6" y="391.3" text-anchor="end" class="s">-0.006</text>
<text x="538.6" y="399.5" text-anchor="end" class="s">-0.009</text>
<text x="538.6" y="407.5" text-anchor="end" class="s">-0.012</text>
<text x="538.6" y="415.9" text-anchor="end" class="s">-0.015</text>
<text x="538.6" y="423.9" text-anchor="end" class="s">-0.018</text>
<text x="544.8" y="431.9" text-anchor="middle" class="s">-0.7</text>
<text x="554.34" y="431.9" text-anchor="middle" class="s">-0.6</text>
<text x="563.89" y="431.9" text-anchor="middle" class="s">-0.5</text>
<text x="573.43" y="431.9" text-anchor="middle" class="s">-0.4</text>
<text x="582.97" y="431.9" text-anchor="middle" class="s">-0.3</text>
<text x="592.51" y="431.9" text-anchor="middle" class="s">-0.2</text>
<text x="602.06" y="431.9" text-anchor="middle" class="s">-0.1</text>
<text x="611.6" y="431.9" text-anchor="middle" class="s">0.0</text>
<text x="579.1" y="438.5" text-anchor="middle" class="s">Potential / V vs. Ag/AgCl</text>
<text transform="translate(524.3,399.6) rotate(-90)" text-anchor="middle" class="s">Current / mA</text>
<path d="M611.6,373.9 C607.15,373.97 591.43,374.08 584.9,374.3 C578.37,374.52 575.97,374.77 572.4,375.2 C568.83,375.63 566.47,376.1 563.5,376.9 C560.53,377.7 556.98,378.8 554.6,380 C552.22,381.2 550.68,382.68 549.2,384.1 C547.72,385.52 546.28,387.77 545.7,388.5 C546.88,388.95 550.73,390 552.8,391.2 C554.87,392.4 556.32,393.77 558.1,395.7 C559.88,397.63 562.02,400.43 563.5,402.8 C564.98,405.17 565.88,407.62 567,409.9 C568.12,412.18 569.38,415.1 570.2,416.5 C571.02,417.9 571.35,418.5 571.9,418.3 C572.45,418.1 572.82,418.18 573.5,415.3 C574.18,412.42 575,405.47 576,401 C577,396.53 578.32,391.77 579.5,388.5 C580.68,385.23 581.62,383.33 583.1,381.4 C584.58,379.47 586.32,378.03 588.4,376.9 C590.48,375.77 591.73,375.05 595.6,374.6 C599.47,374.15 608.93,374.27 611.6,374.2" stroke="#d83a3a" stroke-width="1.1" fill="none" stroke-linejoin="round"/>
<path d="M599.1,404.6H605.4" stroke="#d83a3a" stroke-width="1"/>
<text x="606.5" y="406.1" class="s">b</text>
</svg>
</body></html>
